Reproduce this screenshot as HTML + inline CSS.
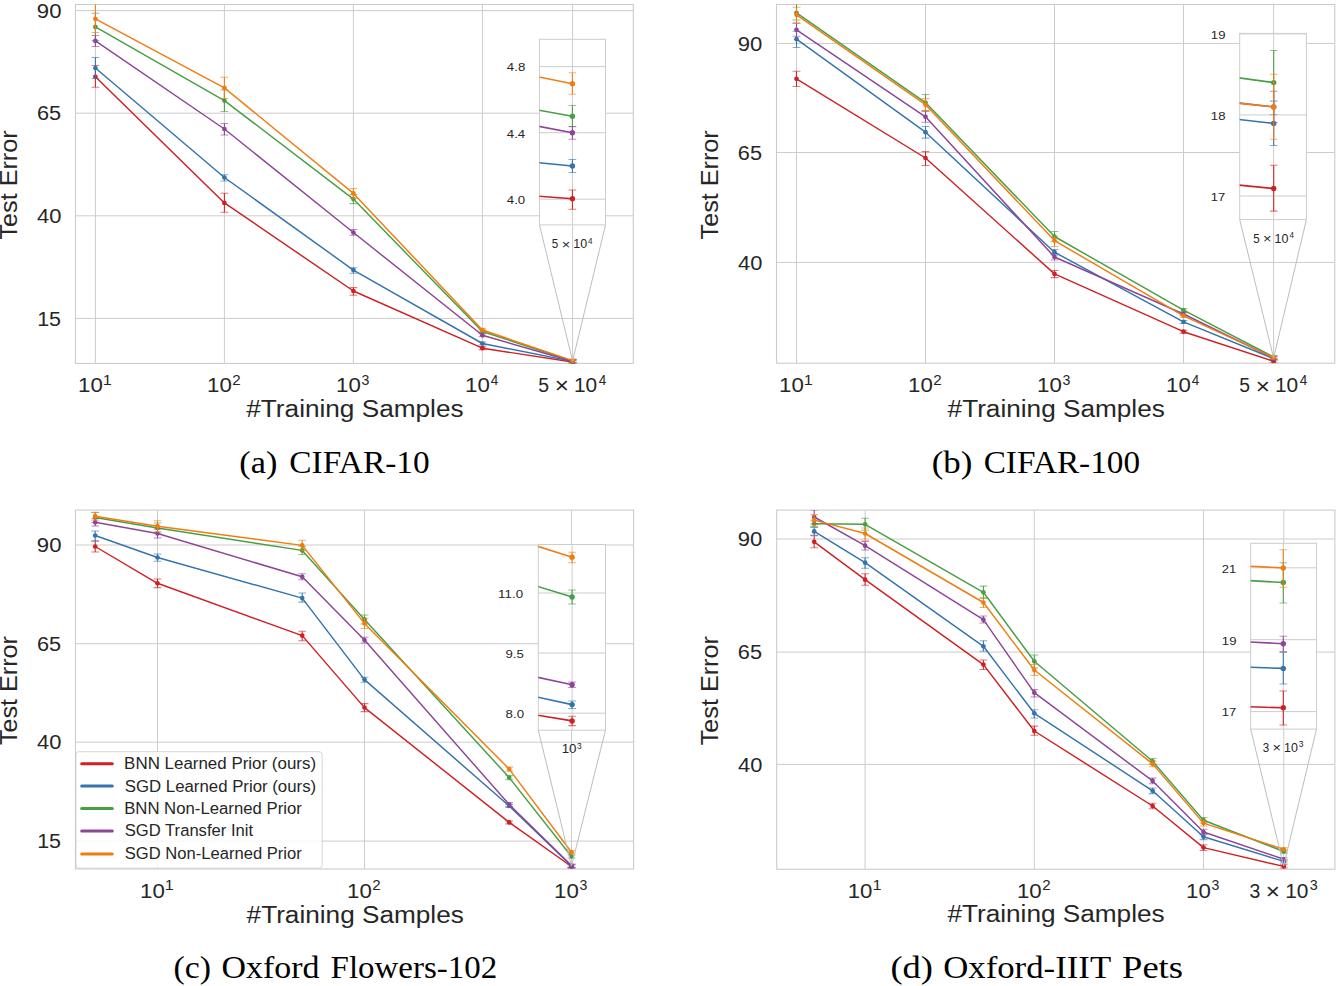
<!DOCTYPE html>
<html><head><meta charset="utf-8"><style>html,body{margin:0;padding:0;background:#fff;width:1338px;height:986px;overflow:hidden}svg{display:block}</style></head><body>
<svg width="1338" height="986" viewBox="0 0 1338 986">
<rect x="0" y="0" width="1338" height="986" fill="#ffffff"/>
<clipPath id="clipa"><rect x="75.5" y="4.5" width="557.8" height="358.9"/></clipPath>
<line x1="95.40" y1="4.50" x2="95.40" y2="363.40" stroke="#cccccc" stroke-width="1.0" />
<line x1="224.40" y1="4.50" x2="224.40" y2="363.40" stroke="#cccccc" stroke-width="1.0" />
<line x1="353.40" y1="4.50" x2="353.40" y2="363.40" stroke="#cccccc" stroke-width="1.0" />
<line x1="482.40" y1="4.50" x2="482.40" y2="363.40" stroke="#cccccc" stroke-width="1.0" />
<line x1="572.60" y1="4.50" x2="572.60" y2="363.40" stroke="#cccccc" stroke-width="1.0" />
<line x1="75.50" y1="10.60" x2="633.30" y2="10.60" stroke="#cccccc" stroke-width="1.0" />
<text transform="translate(36.84,17.80) scale(1.0543,1)" font-size="20.98" font-family='"Liberation Sans", sans-serif' fill="#262626" >90</text>
<line x1="75.50" y1="113.20" x2="633.30" y2="113.20" stroke="#cccccc" stroke-width="1.0" />
<text transform="translate(36.91,120.40) scale(1.0355,1)" font-size="20.98" font-family='"Liberation Sans", sans-serif' fill="#262626" >65</text>
<line x1="75.50" y1="215.80" x2="633.30" y2="215.80" stroke="#cccccc" stroke-width="1.0" />
<text transform="translate(37.10,223.00) scale(1.0430,1)" font-size="20.98" font-family='"Liberation Sans", sans-serif' fill="#262626" >40</text>
<line x1="75.50" y1="318.40" x2="633.30" y2="318.40" stroke="#cccccc" stroke-width="1.0" />
<text transform="translate(37.17,325.60) scale(1.0238,1)" font-size="20.98" font-family='"Liberation Sans", sans-serif' fill="#262626" >15</text>
<rect x="75.5" y="4.5" width="557.8" height="358.9" fill="none" stroke="#cccccc" stroke-width="1.1"/>
<g clip-path="url(#clipa)">
<path d="M95.40,76.80 L224.40,202.90 L353.40,291.00 L482.40,348.20 L572.60,362.00" fill="none" stroke="#cf2024" stroke-width="1.45" stroke-linejoin="round"/>
<circle cx="95.40" cy="76.80" r="2.35" fill="#cf2024"/>
<circle cx="224.40" cy="202.90" r="2.35" fill="#cf2024"/>
<circle cx="353.40" cy="291.00" r="2.35" fill="#cf2024"/>
<circle cx="482.40" cy="348.20" r="2.35" fill="#cf2024"/>
<circle cx="572.60" cy="362.00" r="2.35" fill="#cf2024"/>
<line x1="95.40" y1="65.40" x2="95.40" y2="87.20" stroke="#cf2024" stroke-width="1.05" />
<line x1="91.50" y1="65.40" x2="99.30" y2="65.40" stroke="#cf2024" stroke-width="1.05" stroke-opacity="0.6"/>
<line x1="91.50" y1="87.20" x2="99.30" y2="87.20" stroke="#cf2024" stroke-width="1.05" stroke-opacity="0.6"/>
<line x1="224.40" y1="193.20" x2="224.40" y2="212.30" stroke="#cf2024" stroke-width="1.05" />
<line x1="220.50" y1="193.20" x2="228.30" y2="193.20" stroke="#cf2024" stroke-width="1.05" stroke-opacity="0.6"/>
<line x1="220.50" y1="212.30" x2="228.30" y2="212.30" stroke="#cf2024" stroke-width="1.05" stroke-opacity="0.6"/>
<line x1="353.40" y1="287.60" x2="353.40" y2="295.30" stroke="#cf2024" stroke-width="1.05" />
<line x1="349.50" y1="287.60" x2="357.30" y2="287.60" stroke="#cf2024" stroke-width="1.05" stroke-opacity="0.6"/>
<line x1="349.50" y1="295.30" x2="357.30" y2="295.30" stroke="#cf2024" stroke-width="1.05" stroke-opacity="0.6"/>
<line x1="482.40" y1="346.70" x2="482.40" y2="349.70" stroke="#cf2024" stroke-width="1.05" />
<line x1="478.50" y1="346.70" x2="486.30" y2="346.70" stroke="#cf2024" stroke-width="1.05" stroke-opacity="0.6"/>
<line x1="478.50" y1="349.70" x2="486.30" y2="349.70" stroke="#cf2024" stroke-width="1.05" stroke-opacity="0.6"/>
<line x1="572.60" y1="360.40" x2="572.60" y2="363.60" stroke="#cf2024" stroke-width="1.05" />
<line x1="568.70" y1="360.40" x2="576.50" y2="360.40" stroke="#cf2024" stroke-width="1.05" stroke-opacity="0.6"/>
<line x1="568.70" y1="363.60" x2="576.50" y2="363.60" stroke="#cf2024" stroke-width="1.05" stroke-opacity="0.6"/>
<path d="M95.40,68.00 L224.40,177.50 L353.40,270.10 L482.40,343.50 L572.60,361.40" fill="none" stroke="#3474ad" stroke-width="1.45" stroke-linejoin="round"/>
<circle cx="95.40" cy="68.00" r="2.35" fill="#3474ad"/>
<circle cx="224.40" cy="177.50" r="2.35" fill="#3474ad"/>
<circle cx="353.40" cy="270.10" r="2.35" fill="#3474ad"/>
<circle cx="482.40" cy="343.50" r="2.35" fill="#3474ad"/>
<circle cx="572.60" cy="361.40" r="2.35" fill="#3474ad"/>
<line x1="95.40" y1="57.50" x2="95.40" y2="78.50" stroke="#3474ad" stroke-width="1.05" />
<line x1="91.50" y1="57.50" x2="99.30" y2="57.50" stroke="#3474ad" stroke-width="1.05" stroke-opacity="0.6"/>
<line x1="91.50" y1="78.50" x2="99.30" y2="78.50" stroke="#3474ad" stroke-width="1.05" stroke-opacity="0.6"/>
<line x1="224.40" y1="174.70" x2="224.40" y2="181.00" stroke="#3474ad" stroke-width="1.05" />
<line x1="220.50" y1="174.70" x2="228.30" y2="174.70" stroke="#3474ad" stroke-width="1.05" stroke-opacity="0.6"/>
<line x1="220.50" y1="181.00" x2="228.30" y2="181.00" stroke="#3474ad" stroke-width="1.05" stroke-opacity="0.6"/>
<line x1="353.40" y1="267.70" x2="353.40" y2="273.30" stroke="#3474ad" stroke-width="1.05" />
<line x1="349.50" y1="267.70" x2="357.30" y2="267.70" stroke="#3474ad" stroke-width="1.05" stroke-opacity="0.6"/>
<line x1="349.50" y1="273.30" x2="357.30" y2="273.30" stroke="#3474ad" stroke-width="1.05" stroke-opacity="0.6"/>
<line x1="482.40" y1="342.00" x2="482.40" y2="345.00" stroke="#3474ad" stroke-width="1.05" />
<line x1="478.50" y1="342.00" x2="486.30" y2="342.00" stroke="#3474ad" stroke-width="1.05" stroke-opacity="0.6"/>
<line x1="478.50" y1="345.00" x2="486.30" y2="345.00" stroke="#3474ad" stroke-width="1.05" stroke-opacity="0.6"/>
<line x1="572.60" y1="359.80" x2="572.60" y2="363.00" stroke="#3474ad" stroke-width="1.05" />
<line x1="568.70" y1="359.80" x2="576.50" y2="359.80" stroke="#3474ad" stroke-width="1.05" stroke-opacity="0.6"/>
<line x1="568.70" y1="363.00" x2="576.50" y2="363.00" stroke="#3474ad" stroke-width="1.05" stroke-opacity="0.6"/>
<path d="M95.40,26.90 L224.40,100.60 L353.40,199.10 L482.40,331.50 L572.60,361.00" fill="none" stroke="#479f45" stroke-width="1.45" stroke-linejoin="round"/>
<circle cx="95.40" cy="26.90" r="2.35" fill="#479f45"/>
<circle cx="224.40" cy="100.60" r="2.35" fill="#479f45"/>
<circle cx="353.40" cy="199.10" r="2.35" fill="#479f45"/>
<circle cx="482.40" cy="331.50" r="2.35" fill="#479f45"/>
<circle cx="572.60" cy="361.00" r="2.35" fill="#479f45"/>
<line x1="95.40" y1="13.20" x2="95.40" y2="40.60" stroke="#479f45" stroke-width="1.05" />
<line x1="91.50" y1="13.20" x2="99.30" y2="13.20" stroke="#479f45" stroke-width="1.05" stroke-opacity="0.6"/>
<line x1="91.50" y1="40.60" x2="99.30" y2="40.60" stroke="#479f45" stroke-width="1.05" stroke-opacity="0.6"/>
<line x1="224.40" y1="90.00" x2="224.40" y2="111.50" stroke="#479f45" stroke-width="1.05" />
<line x1="220.50" y1="90.00" x2="228.30" y2="90.00" stroke="#479f45" stroke-width="1.05" stroke-opacity="0.6"/>
<line x1="220.50" y1="111.50" x2="228.30" y2="111.50" stroke="#479f45" stroke-width="1.05" stroke-opacity="0.6"/>
<line x1="353.40" y1="194.60" x2="353.40" y2="203.60" stroke="#479f45" stroke-width="1.05" />
<line x1="349.50" y1="194.60" x2="357.30" y2="194.60" stroke="#479f45" stroke-width="1.05" stroke-opacity="0.6"/>
<line x1="349.50" y1="203.60" x2="357.30" y2="203.60" stroke="#479f45" stroke-width="1.05" stroke-opacity="0.6"/>
<line x1="482.40" y1="330.00" x2="482.40" y2="333.00" stroke="#479f45" stroke-width="1.05" />
<line x1="478.50" y1="330.00" x2="486.30" y2="330.00" stroke="#479f45" stroke-width="1.05" stroke-opacity="0.6"/>
<line x1="478.50" y1="333.00" x2="486.30" y2="333.00" stroke="#479f45" stroke-width="1.05" stroke-opacity="0.6"/>
<line x1="572.60" y1="359.40" x2="572.60" y2="362.60" stroke="#479f45" stroke-width="1.05" />
<line x1="568.70" y1="359.40" x2="576.50" y2="359.40" stroke="#479f45" stroke-width="1.05" stroke-opacity="0.6"/>
<line x1="568.70" y1="362.60" x2="576.50" y2="362.60" stroke="#479f45" stroke-width="1.05" stroke-opacity="0.6"/>
<path d="M95.40,40.90 L224.40,129.00 L353.40,232.50 L482.40,335.30 L572.60,361.20" fill="none" stroke="#8d4597" stroke-width="1.45" stroke-linejoin="round"/>
<circle cx="95.40" cy="40.90" r="2.35" fill="#8d4597"/>
<circle cx="224.40" cy="129.00" r="2.35" fill="#8d4597"/>
<circle cx="353.40" cy="232.50" r="2.35" fill="#8d4597"/>
<circle cx="482.40" cy="335.30" r="2.35" fill="#8d4597"/>
<circle cx="572.60" cy="361.20" r="2.35" fill="#8d4597"/>
<line x1="95.40" y1="35.50" x2="95.40" y2="46.40" stroke="#8d4597" stroke-width="1.05" />
<line x1="91.50" y1="35.50" x2="99.30" y2="35.50" stroke="#8d4597" stroke-width="1.05" stroke-opacity="0.6"/>
<line x1="91.50" y1="46.40" x2="99.30" y2="46.40" stroke="#8d4597" stroke-width="1.05" stroke-opacity="0.6"/>
<line x1="224.40" y1="123.50" x2="224.40" y2="134.90" stroke="#8d4597" stroke-width="1.05" />
<line x1="220.50" y1="123.50" x2="228.30" y2="123.50" stroke="#8d4597" stroke-width="1.05" stroke-opacity="0.6"/>
<line x1="220.50" y1="134.90" x2="228.30" y2="134.90" stroke="#8d4597" stroke-width="1.05" stroke-opacity="0.6"/>
<line x1="353.40" y1="229.40" x2="353.40" y2="235.30" stroke="#8d4597" stroke-width="1.05" />
<line x1="349.50" y1="229.40" x2="357.30" y2="229.40" stroke="#8d4597" stroke-width="1.05" stroke-opacity="0.6"/>
<line x1="349.50" y1="235.30" x2="357.30" y2="235.30" stroke="#8d4597" stroke-width="1.05" stroke-opacity="0.6"/>
<line x1="482.40" y1="333.80" x2="482.40" y2="336.80" stroke="#8d4597" stroke-width="1.05" />
<line x1="478.50" y1="333.80" x2="486.30" y2="333.80" stroke="#8d4597" stroke-width="1.05" stroke-opacity="0.6"/>
<line x1="478.50" y1="336.80" x2="486.30" y2="336.80" stroke="#8d4597" stroke-width="1.05" stroke-opacity="0.6"/>
<line x1="572.60" y1="359.60" x2="572.60" y2="362.80" stroke="#8d4597" stroke-width="1.05" />
<line x1="568.70" y1="359.60" x2="576.50" y2="359.60" stroke="#8d4597" stroke-width="1.05" stroke-opacity="0.6"/>
<line x1="568.70" y1="362.80" x2="576.50" y2="362.80" stroke="#8d4597" stroke-width="1.05" stroke-opacity="0.6"/>
<path d="M95.40,18.80 L224.40,87.90 L353.40,193.40 L482.40,330.00 L572.60,360.60" fill="none" stroke="#f07d12" stroke-width="1.45" stroke-linejoin="round"/>
<circle cx="95.40" cy="18.80" r="2.35" fill="#f07d12"/>
<circle cx="224.40" cy="87.90" r="2.35" fill="#f07d12"/>
<circle cx="353.40" cy="193.40" r="2.35" fill="#f07d12"/>
<circle cx="482.40" cy="330.00" r="2.35" fill="#f07d12"/>
<circle cx="572.60" cy="360.60" r="2.35" fill="#f07d12"/>
<line x1="95.40" y1="2.00" x2="95.40" y2="32.50" stroke="#f07d12" stroke-width="1.05" />
<line x1="91.50" y1="2.00" x2="99.30" y2="2.00" stroke="#f07d12" stroke-width="1.05" stroke-opacity="0.6"/>
<line x1="91.50" y1="32.50" x2="99.30" y2="32.50" stroke="#f07d12" stroke-width="1.05" stroke-opacity="0.6"/>
<line x1="224.40" y1="77.30" x2="224.40" y2="98.50" stroke="#f07d12" stroke-width="1.05" />
<line x1="220.50" y1="77.30" x2="228.30" y2="77.30" stroke="#f07d12" stroke-width="1.05" stroke-opacity="0.6"/>
<line x1="220.50" y1="98.50" x2="228.30" y2="98.50" stroke="#f07d12" stroke-width="1.05" stroke-opacity="0.6"/>
<line x1="353.40" y1="188.50" x2="353.40" y2="198.40" stroke="#f07d12" stroke-width="1.05" />
<line x1="349.50" y1="188.50" x2="357.30" y2="188.50" stroke="#f07d12" stroke-width="1.05" stroke-opacity="0.6"/>
<line x1="349.50" y1="198.40" x2="357.30" y2="198.40" stroke="#f07d12" stroke-width="1.05" stroke-opacity="0.6"/>
<line x1="482.40" y1="328.30" x2="482.40" y2="331.70" stroke="#f07d12" stroke-width="1.05" />
<line x1="478.50" y1="328.30" x2="486.30" y2="328.30" stroke="#f07d12" stroke-width="1.05" stroke-opacity="0.6"/>
<line x1="478.50" y1="331.70" x2="486.30" y2="331.70" stroke="#f07d12" stroke-width="1.05" stroke-opacity="0.6"/>
<line x1="572.60" y1="359.00" x2="572.60" y2="362.20" stroke="#f07d12" stroke-width="1.05" />
<line x1="568.70" y1="359.00" x2="576.50" y2="359.00" stroke="#f07d12" stroke-width="1.05" stroke-opacity="0.6"/>
<line x1="568.70" y1="362.20" x2="576.50" y2="362.20" stroke="#f07d12" stroke-width="1.05" stroke-opacity="0.6"/>
</g>
<line x1="539.50" y1="224.90" x2="572.60" y2="361.00" stroke="#bdbdbd" stroke-width="1.0" />
<line x1="605.50" y1="224.90" x2="572.60" y2="361.00" stroke="#bdbdbd" stroke-width="1.0" />
<rect x="539.5" y="39.3" width="66.0" height="185.60000000000002" fill="#ffffff"/>
<clipPath id="iclipa"><rect x="539.5" y="39.3" width="66.0" height="185.60000000000002"/></clipPath>
<line x1="572.40" y1="39.30" x2="572.40" y2="224.90" stroke="#cccccc" stroke-width="1.0" />
<line x1="539.50" y1="66.60" x2="605.50" y2="66.60" stroke="#cccccc" stroke-width="1.0" />
<text transform="translate(506.85,71.45) scale(1.1362,1)" font-size="11.66" font-family='"Liberation Sans", sans-serif' fill="#262626" >4.8</text>
<line x1="539.50" y1="132.70" x2="605.50" y2="132.70" stroke="#cccccc" stroke-width="1.0" />
<text transform="translate(506.85,137.55) scale(1.1335,1)" font-size="11.66" font-family='"Liberation Sans", sans-serif' fill="#262626" >4.4</text>
<line x1="539.50" y1="199.20" x2="605.50" y2="199.20" stroke="#cccccc" stroke-width="1.0" />
<text transform="translate(506.85,204.05) scale(1.1340,1)" font-size="11.66" font-family='"Liberation Sans", sans-serif' fill="#262626" >4.0</text>
<rect x="539.5" y="39.3" width="66.0" height="185.60000000000002" fill="none" stroke="#cccccc" stroke-width="1.0"/>
<g clip-path="url(#iclipa)">
<path d="M537.50,196.20 L572.40,198.70" fill="none" stroke="#cf2024" stroke-width="1.6" stroke-linejoin="round"/>
<circle cx="572.40" cy="198.70" r="2.7" fill="#cf2024"/>
<line x1="572.40" y1="189.90" x2="572.40" y2="209.20" stroke="#cf2024" stroke-width="1.05" />
<line x1="568.60" y1="189.90" x2="576.20" y2="189.90" stroke="#cf2024" stroke-width="1.05" stroke-opacity="0.6"/>
<line x1="568.60" y1="209.20" x2="576.20" y2="209.20" stroke="#cf2024" stroke-width="1.05" stroke-opacity="0.6"/>
<path d="M537.50,162.60 L572.40,166.00" fill="none" stroke="#3474ad" stroke-width="1.6" stroke-linejoin="round"/>
<circle cx="572.40" cy="166.00" r="2.7" fill="#3474ad"/>
<line x1="572.40" y1="159.50" x2="572.40" y2="172.40" stroke="#3474ad" stroke-width="1.05" />
<line x1="568.60" y1="159.50" x2="576.20" y2="159.50" stroke="#3474ad" stroke-width="1.05" stroke-opacity="0.6"/>
<line x1="568.60" y1="172.40" x2="576.20" y2="172.40" stroke="#3474ad" stroke-width="1.05" stroke-opacity="0.6"/>
<path d="M537.50,110.00 L572.40,116.30" fill="none" stroke="#479f45" stroke-width="1.6" stroke-linejoin="round"/>
<circle cx="572.40" cy="116.30" r="2.7" fill="#479f45"/>
<line x1="572.40" y1="105.40" x2="572.40" y2="126.80" stroke="#479f45" stroke-width="1.05" />
<line x1="568.60" y1="105.40" x2="576.20" y2="105.40" stroke="#479f45" stroke-width="1.05" stroke-opacity="0.6"/>
<line x1="568.60" y1="126.80" x2="576.20" y2="126.80" stroke="#479f45" stroke-width="1.05" stroke-opacity="0.6"/>
<path d="M537.50,126.10 L572.40,132.70" fill="none" stroke="#8d4597" stroke-width="1.6" stroke-linejoin="round"/>
<circle cx="572.40" cy="132.70" r="2.7" fill="#8d4597"/>
<line x1="572.40" y1="126.40" x2="572.40" y2="139.20" stroke="#8d4597" stroke-width="1.05" />
<line x1="568.60" y1="126.40" x2="576.20" y2="126.40" stroke="#8d4597" stroke-width="1.05" stroke-opacity="0.6"/>
<line x1="568.60" y1="139.20" x2="576.20" y2="139.20" stroke="#8d4597" stroke-width="1.05" stroke-opacity="0.6"/>
<path d="M537.50,76.70 L572.40,83.70" fill="none" stroke="#f07d12" stroke-width="1.6" stroke-linejoin="round"/>
<circle cx="572.40" cy="83.70" r="2.7" fill="#f07d12"/>
<line x1="572.40" y1="72.70" x2="572.40" y2="94.20" stroke="#f07d12" stroke-width="1.05" />
<line x1="568.60" y1="72.70" x2="576.20" y2="72.70" stroke="#f07d12" stroke-width="1.05" stroke-opacity="0.6"/>
<line x1="568.60" y1="94.20" x2="576.20" y2="94.20" stroke="#f07d12" stroke-width="1.05" stroke-opacity="0.6"/>
</g>
<text transform="translate(551.86,248.30) scale(0.9604,1)" font-size="12.12" font-family='"Liberation Sans", sans-serif' fill="#262626" >5</text>
<text transform="translate(561.64,249.13) scale(1.0705,1)" font-size="13.58" font-family='"Liberation Sans", sans-serif' fill="#262626">×</text>
<text transform="translate(573.22,248.30) scale(1.0326,1)" font-size="12.12" font-family='"Liberation Sans", sans-serif' fill="#262626" >10</text>
<text transform="translate(588.08,243.86) scale(0.9571,1)" font-size="8.46" font-family='"Liberation Sans", sans-serif' fill="#262626" >4</text>
<text transform="translate(78.00,392.10) scale(1.1020,1)" font-size="20.20" font-family='"Liberation Sans", sans-serif' fill="#262626" >10</text>
<text transform="translate(102.76,384.70) scale(1.1516,1)" font-size="14.10" font-family='"Liberation Sans", sans-serif' fill="#262626" >1</text>
<text transform="translate(207.00,392.10) scale(1.1020,1)" font-size="20.20" font-family='"Liberation Sans", sans-serif' fill="#262626" >10</text>
<text transform="translate(232.24,384.70) scale(1.0743,1)" font-size="14.10" font-family='"Liberation Sans", sans-serif' fill="#262626" >2</text>
<text transform="translate(336.00,392.10) scale(1.1020,1)" font-size="20.20" font-family='"Liberation Sans", sans-serif' fill="#262626" >10</text>
<text transform="translate(361.46,384.70) scale(1.0023,1)" font-size="14.10" font-family='"Liberation Sans", sans-serif' fill="#262626" >3</text>
<text transform="translate(465.00,392.10) scale(1.1020,1)" font-size="20.20" font-family='"Liberation Sans", sans-serif' fill="#262626" >10</text>
<text transform="translate(490.69,384.70) scale(0.9571,1)" font-size="14.10" font-family='"Liberation Sans", sans-serif' fill="#262626" >4</text>
<text transform="translate(538.37,392.10) scale(0.9604,1)" font-size="20.20" font-family='"Liberation Sans", sans-serif' fill="#262626" >5</text>
<text transform="translate(554.67,393.49) scale(1.0705,1)" font-size="22.63" font-family='"Liberation Sans", sans-serif' fill="#262626">×</text>
<text transform="translate(573.96,392.10) scale(1.0326,1)" font-size="20.20" font-family='"Liberation Sans", sans-serif' fill="#262626" >10</text>
<text transform="translate(598.74,384.70) scale(0.9571,1)" font-size="14.10" font-family='"Liberation Sans", sans-serif' fill="#262626" >4</text>
<text transform="translate(246.28,417.10) scale(1.1328,1)" font-size="23.11" font-family='"Liberation Sans", sans-serif' fill="#262626" >#Training Samples</text>
<g transform="translate(16.50,238.95) rotate(-90)">
<text transform="translate(-0.57,0) scale(1.0902,1)" font-size="23.11" font-family='"Liberation Sans", sans-serif' fill="#262626">Test Error</text>
</g>
<text transform="translate(239.29,472.80) scale(1.0532,1)" font-size="32.52" font-family='"Liberation Serif", serif' fill="#000000" >(a)</text>
<text transform="translate(289.33,472.80) scale(1.0267,1)" font-size="32.52" font-family='"Liberation Serif", serif' fill="#000000" >CIFAR-10</text>
<clipPath id="clipb"><rect x="776.5" y="4.5" width="558.3" height="358.7"/></clipPath>
<line x1="796.50" y1="4.50" x2="796.50" y2="363.20" stroke="#cccccc" stroke-width="1.0" />
<line x1="925.50" y1="4.50" x2="925.50" y2="363.20" stroke="#cccccc" stroke-width="1.0" />
<line x1="1054.50" y1="4.50" x2="1054.50" y2="363.20" stroke="#cccccc" stroke-width="1.0" />
<line x1="1183.50" y1="4.50" x2="1183.50" y2="363.20" stroke="#cccccc" stroke-width="1.0" />
<line x1="1273.60" y1="4.50" x2="1273.60" y2="363.20" stroke="#cccccc" stroke-width="1.0" />
<line x1="776.50" y1="43.44" x2="1334.80" y2="43.44" stroke="#cccccc" stroke-width="1.0" />
<text transform="translate(737.74,50.64) scale(1.0543,1)" font-size="20.98" font-family='"Liberation Sans", sans-serif' fill="#262626" >90</text>
<line x1="776.50" y1="152.50" x2="1334.80" y2="152.50" stroke="#cccccc" stroke-width="1.0" />
<text transform="translate(737.81,159.70) scale(1.0355,1)" font-size="20.98" font-family='"Liberation Sans", sans-serif' fill="#262626" >65</text>
<line x1="776.50" y1="262.40" x2="1334.80" y2="262.40" stroke="#cccccc" stroke-width="1.0" />
<text transform="translate(738.00,269.60) scale(1.0430,1)" font-size="20.98" font-family='"Liberation Sans", sans-serif' fill="#262626" >40</text>
<rect x="776.5" y="4.5" width="558.3" height="358.7" fill="none" stroke="#cccccc" stroke-width="1.1"/>
<g clip-path="url(#clipb)">
<path d="M796.50,78.80 L925.50,158.00 L1054.50,273.90 L1183.50,331.70 L1273.60,361.20" fill="none" stroke="#cf2024" stroke-width="1.45" stroke-linejoin="round"/>
<circle cx="796.50" cy="78.80" r="2.35" fill="#cf2024"/>
<circle cx="925.50" cy="158.00" r="2.35" fill="#cf2024"/>
<circle cx="1054.50" cy="273.90" r="2.35" fill="#cf2024"/>
<circle cx="1183.50" cy="331.70" r="2.35" fill="#cf2024"/>
<circle cx="1273.60" cy="361.20" r="2.35" fill="#cf2024"/>
<line x1="796.50" y1="71.20" x2="796.50" y2="86.40" stroke="#cf2024" stroke-width="1.05" />
<line x1="792.60" y1="71.20" x2="800.40" y2="71.20" stroke="#cf2024" stroke-width="1.05" stroke-opacity="0.6"/>
<line x1="792.60" y1="86.40" x2="800.40" y2="86.40" stroke="#cf2024" stroke-width="1.05" stroke-opacity="0.6"/>
<line x1="925.50" y1="151.60" x2="925.50" y2="165.40" stroke="#cf2024" stroke-width="1.05" />
<line x1="921.60" y1="151.60" x2="929.40" y2="151.60" stroke="#cf2024" stroke-width="1.05" stroke-opacity="0.6"/>
<line x1="921.60" y1="165.40" x2="929.40" y2="165.40" stroke="#cf2024" stroke-width="1.05" stroke-opacity="0.6"/>
<line x1="1054.50" y1="270.50" x2="1054.50" y2="277.60" stroke="#cf2024" stroke-width="1.05" />
<line x1="1050.60" y1="270.50" x2="1058.40" y2="270.50" stroke="#cf2024" stroke-width="1.05" stroke-opacity="0.6"/>
<line x1="1050.60" y1="277.60" x2="1058.40" y2="277.60" stroke="#cf2024" stroke-width="1.05" stroke-opacity="0.6"/>
<line x1="1183.50" y1="330.20" x2="1183.50" y2="333.20" stroke="#cf2024" stroke-width="1.05" />
<line x1="1179.60" y1="330.20" x2="1187.40" y2="330.20" stroke="#cf2024" stroke-width="1.05" stroke-opacity="0.6"/>
<line x1="1179.60" y1="333.20" x2="1187.40" y2="333.20" stroke="#cf2024" stroke-width="1.05" stroke-opacity="0.6"/>
<line x1="1273.60" y1="359.60" x2="1273.60" y2="362.80" stroke="#cf2024" stroke-width="1.05" />
<line x1="1269.70" y1="359.60" x2="1277.50" y2="359.60" stroke="#cf2024" stroke-width="1.05" stroke-opacity="0.6"/>
<line x1="1269.70" y1="362.80" x2="1277.50" y2="362.80" stroke="#cf2024" stroke-width="1.05" stroke-opacity="0.6"/>
<path d="M796.50,39.20 L925.50,132.20 L1054.50,252.20 L1183.50,321.90 L1273.60,358.50" fill="none" stroke="#3474ad" stroke-width="1.45" stroke-linejoin="round"/>
<circle cx="796.50" cy="39.20" r="2.35" fill="#3474ad"/>
<circle cx="925.50" cy="132.20" r="2.35" fill="#3474ad"/>
<circle cx="1054.50" cy="252.20" r="2.35" fill="#3474ad"/>
<circle cx="1183.50" cy="321.90" r="2.35" fill="#3474ad"/>
<circle cx="1273.60" cy="358.50" r="2.35" fill="#3474ad"/>
<line x1="796.50" y1="31.20" x2="796.50" y2="47.40" stroke="#3474ad" stroke-width="1.05" />
<line x1="792.60" y1="31.20" x2="800.40" y2="31.20" stroke="#3474ad" stroke-width="1.05" stroke-opacity="0.6"/>
<line x1="792.60" y1="47.40" x2="800.40" y2="47.40" stroke="#3474ad" stroke-width="1.05" stroke-opacity="0.6"/>
<line x1="925.50" y1="126.50" x2="925.50" y2="138.10" stroke="#3474ad" stroke-width="1.05" />
<line x1="921.60" y1="126.50" x2="929.40" y2="126.50" stroke="#3474ad" stroke-width="1.05" stroke-opacity="0.6"/>
<line x1="921.60" y1="138.10" x2="929.40" y2="138.10" stroke="#3474ad" stroke-width="1.05" stroke-opacity="0.6"/>
<line x1="1054.50" y1="249.50" x2="1054.50" y2="255.00" stroke="#3474ad" stroke-width="1.05" />
<line x1="1050.60" y1="249.50" x2="1058.40" y2="249.50" stroke="#3474ad" stroke-width="1.05" stroke-opacity="0.6"/>
<line x1="1050.60" y1="255.00" x2="1058.40" y2="255.00" stroke="#3474ad" stroke-width="1.05" stroke-opacity="0.6"/>
<line x1="1183.50" y1="320.40" x2="1183.50" y2="323.40" stroke="#3474ad" stroke-width="1.05" />
<line x1="1179.60" y1="320.40" x2="1187.40" y2="320.40" stroke="#3474ad" stroke-width="1.05" stroke-opacity="0.6"/>
<line x1="1179.60" y1="323.40" x2="1187.40" y2="323.40" stroke="#3474ad" stroke-width="1.05" stroke-opacity="0.6"/>
<line x1="1273.60" y1="356.90" x2="1273.60" y2="360.10" stroke="#3474ad" stroke-width="1.05" />
<line x1="1269.70" y1="356.90" x2="1277.50" y2="356.90" stroke="#3474ad" stroke-width="1.05" stroke-opacity="0.6"/>
<line x1="1269.70" y1="360.10" x2="1277.50" y2="360.10" stroke="#3474ad" stroke-width="1.05" stroke-opacity="0.6"/>
<path d="M796.50,12.80 L925.50,102.60 L1054.50,236.50 L1183.50,310.20 L1273.60,357.00" fill="none" stroke="#479f45" stroke-width="1.45" stroke-linejoin="round"/>
<circle cx="796.50" cy="12.80" r="2.35" fill="#479f45"/>
<circle cx="925.50" cy="102.60" r="2.35" fill="#479f45"/>
<circle cx="1054.50" cy="236.50" r="2.35" fill="#479f45"/>
<circle cx="1183.50" cy="310.20" r="2.35" fill="#479f45"/>
<circle cx="1273.60" cy="357.00" r="2.35" fill="#479f45"/>
<line x1="796.50" y1="3.00" x2="796.50" y2="20.00" stroke="#479f45" stroke-width="1.05" />
<line x1="792.60" y1="3.00" x2="800.40" y2="3.00" stroke="#479f45" stroke-width="1.05" stroke-opacity="0.6"/>
<line x1="792.60" y1="20.00" x2="800.40" y2="20.00" stroke="#479f45" stroke-width="1.05" stroke-opacity="0.6"/>
<line x1="925.50" y1="94.40" x2="925.50" y2="110.80" stroke="#479f45" stroke-width="1.05" />
<line x1="921.60" y1="94.40" x2="929.40" y2="94.40" stroke="#479f45" stroke-width="1.05" stroke-opacity="0.6"/>
<line x1="921.60" y1="110.80" x2="929.40" y2="110.80" stroke="#479f45" stroke-width="1.05" stroke-opacity="0.6"/>
<line x1="1054.50" y1="231.50" x2="1054.50" y2="241.50" stroke="#479f45" stroke-width="1.05" />
<line x1="1050.60" y1="231.50" x2="1058.40" y2="231.50" stroke="#479f45" stroke-width="1.05" stroke-opacity="0.6"/>
<line x1="1050.60" y1="241.50" x2="1058.40" y2="241.50" stroke="#479f45" stroke-width="1.05" stroke-opacity="0.6"/>
<line x1="1183.50" y1="308.70" x2="1183.50" y2="311.70" stroke="#479f45" stroke-width="1.05" />
<line x1="1179.60" y1="308.70" x2="1187.40" y2="308.70" stroke="#479f45" stroke-width="1.05" stroke-opacity="0.6"/>
<line x1="1179.60" y1="311.70" x2="1187.40" y2="311.70" stroke="#479f45" stroke-width="1.05" stroke-opacity="0.6"/>
<line x1="1273.60" y1="355.40" x2="1273.60" y2="358.60" stroke="#479f45" stroke-width="1.05" />
<line x1="1269.70" y1="355.40" x2="1277.50" y2="355.40" stroke="#479f45" stroke-width="1.05" stroke-opacity="0.6"/>
<line x1="1269.70" y1="358.60" x2="1277.50" y2="358.60" stroke="#479f45" stroke-width="1.05" stroke-opacity="0.6"/>
<path d="M796.50,29.80 L925.50,116.80 L1054.50,257.00 L1183.50,314.00 L1273.60,358.00" fill="none" stroke="#8d4597" stroke-width="1.45" stroke-linejoin="round"/>
<circle cx="796.50" cy="29.80" r="2.35" fill="#8d4597"/>
<circle cx="925.50" cy="116.80" r="2.35" fill="#8d4597"/>
<circle cx="1054.50" cy="257.00" r="2.35" fill="#8d4597"/>
<circle cx="1183.50" cy="314.00" r="2.35" fill="#8d4597"/>
<circle cx="1273.60" cy="358.00" r="2.35" fill="#8d4597"/>
<line x1="796.50" y1="23.30" x2="796.50" y2="36.30" stroke="#8d4597" stroke-width="1.05" />
<line x1="792.60" y1="23.30" x2="800.40" y2="23.30" stroke="#8d4597" stroke-width="1.05" stroke-opacity="0.6"/>
<line x1="792.60" y1="36.30" x2="800.40" y2="36.30" stroke="#8d4597" stroke-width="1.05" stroke-opacity="0.6"/>
<line x1="925.50" y1="111.10" x2="925.50" y2="122.20" stroke="#8d4597" stroke-width="1.05" />
<line x1="921.60" y1="111.10" x2="929.40" y2="111.10" stroke="#8d4597" stroke-width="1.05" stroke-opacity="0.6"/>
<line x1="921.60" y1="122.20" x2="929.40" y2="122.20" stroke="#8d4597" stroke-width="1.05" stroke-opacity="0.6"/>
<line x1="1054.50" y1="254.00" x2="1054.50" y2="260.00" stroke="#8d4597" stroke-width="1.05" />
<line x1="1050.60" y1="254.00" x2="1058.40" y2="254.00" stroke="#8d4597" stroke-width="1.05" stroke-opacity="0.6"/>
<line x1="1050.60" y1="260.00" x2="1058.40" y2="260.00" stroke="#8d4597" stroke-width="1.05" stroke-opacity="0.6"/>
<line x1="1183.50" y1="312.50" x2="1183.50" y2="315.50" stroke="#8d4597" stroke-width="1.05" />
<line x1="1179.60" y1="312.50" x2="1187.40" y2="312.50" stroke="#8d4597" stroke-width="1.05" stroke-opacity="0.6"/>
<line x1="1179.60" y1="315.50" x2="1187.40" y2="315.50" stroke="#8d4597" stroke-width="1.05" stroke-opacity="0.6"/>
<line x1="1273.60" y1="356.40" x2="1273.60" y2="359.60" stroke="#8d4597" stroke-width="1.05" />
<line x1="1269.70" y1="356.40" x2="1277.50" y2="356.40" stroke="#8d4597" stroke-width="1.05" stroke-opacity="0.6"/>
<line x1="1269.70" y1="359.60" x2="1277.50" y2="359.60" stroke="#8d4597" stroke-width="1.05" stroke-opacity="0.6"/>
<path d="M796.50,14.80 L925.50,104.70 L1054.50,240.60 L1183.50,315.80 L1273.60,357.50" fill="none" stroke="#f07d12" stroke-width="1.45" stroke-linejoin="round"/>
<circle cx="796.50" cy="14.80" r="2.35" fill="#f07d12"/>
<circle cx="925.50" cy="104.70" r="2.35" fill="#f07d12"/>
<circle cx="1054.50" cy="240.60" r="2.35" fill="#f07d12"/>
<circle cx="1183.50" cy="315.80" r="2.35" fill="#f07d12"/>
<circle cx="1273.60" cy="357.50" r="2.35" fill="#f07d12"/>
<line x1="796.50" y1="7.30" x2="796.50" y2="23.10" stroke="#f07d12" stroke-width="1.05" />
<line x1="792.60" y1="7.30" x2="800.40" y2="7.30" stroke="#f07d12" stroke-width="1.05" stroke-opacity="0.6"/>
<line x1="792.60" y1="23.10" x2="800.40" y2="23.10" stroke="#f07d12" stroke-width="1.05" stroke-opacity="0.6"/>
<line x1="925.50" y1="98.60" x2="925.50" y2="111.10" stroke="#f07d12" stroke-width="1.05" />
<line x1="921.60" y1="98.60" x2="929.40" y2="98.60" stroke="#f07d12" stroke-width="1.05" stroke-opacity="0.6"/>
<line x1="921.60" y1="111.10" x2="929.40" y2="111.10" stroke="#f07d12" stroke-width="1.05" stroke-opacity="0.6"/>
<line x1="1054.50" y1="236.50" x2="1054.50" y2="246.50" stroke="#f07d12" stroke-width="1.05" />
<line x1="1050.60" y1="236.50" x2="1058.40" y2="236.50" stroke="#f07d12" stroke-width="1.05" stroke-opacity="0.6"/>
<line x1="1050.60" y1="246.50" x2="1058.40" y2="246.50" stroke="#f07d12" stroke-width="1.05" stroke-opacity="0.6"/>
<line x1="1183.50" y1="314.30" x2="1183.50" y2="317.30" stroke="#f07d12" stroke-width="1.05" />
<line x1="1179.60" y1="314.30" x2="1187.40" y2="314.30" stroke="#f07d12" stroke-width="1.05" stroke-opacity="0.6"/>
<line x1="1179.60" y1="317.30" x2="1187.40" y2="317.30" stroke="#f07d12" stroke-width="1.05" stroke-opacity="0.6"/>
<line x1="1273.60" y1="355.90" x2="1273.60" y2="359.10" stroke="#f07d12" stroke-width="1.05" />
<line x1="1269.70" y1="355.90" x2="1277.50" y2="355.90" stroke="#f07d12" stroke-width="1.05" stroke-opacity="0.6"/>
<line x1="1269.70" y1="359.10" x2="1277.50" y2="359.10" stroke="#f07d12" stroke-width="1.05" stroke-opacity="0.6"/>
</g>
<line x1="1239.70" y1="219.60" x2="1273.60" y2="358.00" stroke="#bdbdbd" stroke-width="1.0" />
<line x1="1306.40" y1="219.60" x2="1273.60" y2="358.00" stroke="#bdbdbd" stroke-width="1.0" />
<rect x="1239.7" y="33.4" width="66.70000000000005" height="186.2" fill="#ffffff"/>
<clipPath id="iclipb"><rect x="1239.7" y="33.4" width="66.70000000000005" height="186.2"/></clipPath>
<line x1="1273.70" y1="33.40" x2="1273.70" y2="219.60" stroke="#cccccc" stroke-width="1.0" />
<line x1="1239.70" y1="33.90" x2="1306.40" y2="33.90" stroke="#cccccc" stroke-width="1.0" />
<text transform="translate(1210.86,38.75) scale(1.1279,1)" font-size="11.66" font-family='"Liberation Sans", sans-serif' fill="#262626" >19</text>
<line x1="1239.70" y1="114.90" x2="1306.40" y2="114.90" stroke="#cccccc" stroke-width="1.0" />
<text transform="translate(1210.87,119.75) scale(1.1254,1)" font-size="11.66" font-family='"Liberation Sans", sans-serif' fill="#262626" >18</text>
<line x1="1239.70" y1="196.00" x2="1306.40" y2="196.00" stroke="#cccccc" stroke-width="1.0" />
<text transform="translate(1210.87,200.85) scale(1.1155,1)" font-size="11.66" font-family='"Liberation Sans", sans-serif' fill="#262626" >17</text>
<rect x="1239.7" y="33.4" width="66.70000000000005" height="186.2" fill="none" stroke="#cccccc" stroke-width="1.0"/>
<g clip-path="url(#iclipb)">
<path d="M1237.70,185.00 L1273.70,188.50" fill="none" stroke="#cf2024" stroke-width="1.6" stroke-linejoin="round"/>
<circle cx="1273.70" cy="188.50" r="2.7" fill="#cf2024"/>
<line x1="1273.70" y1="165.30" x2="1273.70" y2="211.10" stroke="#cf2024" stroke-width="1.05" />
<line x1="1269.90" y1="165.30" x2="1277.50" y2="165.30" stroke="#cf2024" stroke-width="1.05" stroke-opacity="0.6"/>
<line x1="1269.90" y1="211.10" x2="1277.50" y2="211.10" stroke="#cf2024" stroke-width="1.05" stroke-opacity="0.6"/>
<path d="M1237.70,119.30 L1273.70,123.50" fill="none" stroke="#3474ad" stroke-width="1.6" stroke-linejoin="round"/>
<circle cx="1273.70" cy="123.50" r="2.7" fill="#3474ad"/>
<line x1="1273.70" y1="101.10" x2="1273.70" y2="145.40" stroke="#3474ad" stroke-width="1.05" />
<line x1="1269.90" y1="101.10" x2="1277.50" y2="101.10" stroke="#3474ad" stroke-width="1.05" stroke-opacity="0.6"/>
<line x1="1269.90" y1="145.40" x2="1277.50" y2="145.40" stroke="#3474ad" stroke-width="1.05" stroke-opacity="0.6"/>
<path d="M1237.70,77.70 L1273.70,82.60" fill="none" stroke="#479f45" stroke-width="1.6" stroke-linejoin="round"/>
<circle cx="1273.70" cy="82.60" r="2.7" fill="#479f45"/>
<line x1="1273.70" y1="50.40" x2="1273.70" y2="114.80" stroke="#479f45" stroke-width="1.05" />
<line x1="1269.90" y1="50.40" x2="1277.50" y2="50.40" stroke="#479f45" stroke-width="1.05" stroke-opacity="0.6"/>
<line x1="1269.90" y1="114.80" x2="1277.50" y2="114.80" stroke="#479f45" stroke-width="1.05" stroke-opacity="0.6"/>
<path d="M1237.70,103.00 L1273.70,106.90" fill="none" stroke="#8d4597" stroke-width="1.6" stroke-linejoin="round"/>
<circle cx="1273.70" cy="106.90" r="2.7" fill="#8d4597"/>
<line x1="1273.70" y1="91.30" x2="1273.70" y2="122.50" stroke="#8d4597" stroke-width="1.05" />
<line x1="1269.90" y1="91.30" x2="1277.50" y2="91.30" stroke="#8d4597" stroke-width="1.05" stroke-opacity="0.6"/>
<line x1="1269.90" y1="122.50" x2="1277.50" y2="122.50" stroke="#8d4597" stroke-width="1.05" stroke-opacity="0.6"/>
<path d="M1237.70,103.00 L1273.70,106.90" fill="none" stroke="#f07d12" stroke-width="1.6" stroke-linejoin="round"/>
<circle cx="1273.70" cy="106.90" r="2.7" fill="#f07d12"/>
<line x1="1273.70" y1="74.30" x2="1273.70" y2="139.30" stroke="#f07d12" stroke-width="1.05" />
<line x1="1269.90" y1="74.30" x2="1277.50" y2="74.30" stroke="#f07d12" stroke-width="1.05" stroke-opacity="0.6"/>
<line x1="1269.90" y1="139.30" x2="1277.50" y2="139.30" stroke="#f07d12" stroke-width="1.05" stroke-opacity="0.6"/>
</g>
<text transform="translate(1253.16,242.60) scale(0.9604,1)" font-size="12.12" font-family='"Liberation Sans", sans-serif' fill="#262626" >5</text>
<text transform="translate(1262.94,243.43) scale(1.0705,1)" font-size="13.58" font-family='"Liberation Sans", sans-serif' fill="#262626">×</text>
<text transform="translate(1274.52,242.60) scale(1.0326,1)" font-size="12.12" font-family='"Liberation Sans", sans-serif' fill="#262626" >10</text>
<text transform="translate(1289.38,238.16) scale(0.9571,1)" font-size="8.46" font-family='"Liberation Sans", sans-serif' fill="#262626" >4</text>
<text transform="translate(779.10,392.20) scale(1.1020,1)" font-size="20.20" font-family='"Liberation Sans", sans-serif' fill="#262626" >10</text>
<text transform="translate(803.86,384.80) scale(1.1516,1)" font-size="14.10" font-family='"Liberation Sans", sans-serif' fill="#262626" >1</text>
<text transform="translate(908.10,392.20) scale(1.1020,1)" font-size="20.20" font-family='"Liberation Sans", sans-serif' fill="#262626" >10</text>
<text transform="translate(933.34,384.80) scale(1.0743,1)" font-size="14.10" font-family='"Liberation Sans", sans-serif' fill="#262626" >2</text>
<text transform="translate(1037.10,392.20) scale(1.1020,1)" font-size="20.20" font-family='"Liberation Sans", sans-serif' fill="#262626" >10</text>
<text transform="translate(1062.56,384.80) scale(1.0023,1)" font-size="14.10" font-family='"Liberation Sans", sans-serif' fill="#262626" >3</text>
<text transform="translate(1166.10,392.20) scale(1.1020,1)" font-size="20.20" font-family='"Liberation Sans", sans-serif' fill="#262626" >10</text>
<text transform="translate(1191.79,384.80) scale(0.9571,1)" font-size="14.10" font-family='"Liberation Sans", sans-serif' fill="#262626" >4</text>
<text transform="translate(1239.37,392.20) scale(0.9604,1)" font-size="20.20" font-family='"Liberation Sans", sans-serif' fill="#262626" >5</text>
<text transform="translate(1255.67,393.59) scale(1.0705,1)" font-size="22.63" font-family='"Liberation Sans", sans-serif' fill="#262626">×</text>
<text transform="translate(1274.96,392.20) scale(1.0326,1)" font-size="20.20" font-family='"Liberation Sans", sans-serif' fill="#262626" >10</text>
<text transform="translate(1299.74,384.80) scale(0.9571,1)" font-size="14.10" font-family='"Liberation Sans", sans-serif' fill="#262626" >4</text>
<text transform="translate(947.58,416.80) scale(1.1328,1)" font-size="23.11" font-family='"Liberation Sans", sans-serif' fill="#262626" >#Training Samples</text>
<g transform="translate(718.30,238.85) rotate(-90)">
<text transform="translate(-0.57,0) scale(1.0902,1)" font-size="23.11" font-family='"Liberation Sans", sans-serif' fill="#262626">Test Error</text>
</g>
<text transform="translate(931.67,472.90) scale(1.0725,1)" font-size="32.52" font-family='"Liberation Serif", serif' fill="#000000" >(b)</text>
<text transform="translate(983.64,472.90) scale(1.0228,1)" font-size="32.52" font-family='"Liberation Serif", serif' fill="#000000" >CIFAR-100</text>
<clipPath id="clipc"><rect x="75.5" y="510.1" width="558.1" height="358.9"/></clipPath>
<line x1="157.50" y1="510.10" x2="157.50" y2="869.00" stroke="#cccccc" stroke-width="1.0" />
<line x1="364.50" y1="510.10" x2="364.50" y2="869.00" stroke="#cccccc" stroke-width="1.0" />
<line x1="571.50" y1="510.10" x2="571.50" y2="869.00" stroke="#cccccc" stroke-width="1.0" />
<line x1="75.50" y1="545.00" x2="633.60" y2="545.00" stroke="#cccccc" stroke-width="1.0" />
<text transform="translate(36.84,552.20) scale(1.0543,1)" font-size="20.98" font-family='"Liberation Sans", sans-serif' fill="#262626" >90</text>
<line x1="75.50" y1="643.70" x2="633.60" y2="643.70" stroke="#cccccc" stroke-width="1.0" />
<text transform="translate(36.91,650.90) scale(1.0355,1)" font-size="20.98" font-family='"Liberation Sans", sans-serif' fill="#262626" >65</text>
<line x1="75.50" y1="742.20" x2="633.60" y2="742.20" stroke="#cccccc" stroke-width="1.0" />
<text transform="translate(37.10,749.40) scale(1.0430,1)" font-size="20.98" font-family='"Liberation Sans", sans-serif' fill="#262626" >40</text>
<line x1="75.50" y1="841.10" x2="633.60" y2="841.10" stroke="#cccccc" stroke-width="1.0" />
<text transform="translate(37.17,848.30) scale(1.0238,1)" font-size="20.98" font-family='"Liberation Sans", sans-serif' fill="#262626" >15</text>
<rect x="75.5" y="510.1" width="558.1" height="358.9" fill="none" stroke="#cccccc" stroke-width="1.1"/>
<g clip-path="url(#clipc)">
<path d="M95.20,546.50 L157.50,583.30 L302.20,635.60 L364.50,707.60 L509.20,822.40 L571.50,866.50" fill="none" stroke="#cf2024" stroke-width="1.45" stroke-linejoin="round"/>
<circle cx="95.20" cy="546.50" r="2.35" fill="#cf2024"/>
<circle cx="157.50" cy="583.30" r="2.35" fill="#cf2024"/>
<circle cx="302.20" cy="635.60" r="2.35" fill="#cf2024"/>
<circle cx="364.50" cy="707.60" r="2.35" fill="#cf2024"/>
<circle cx="509.20" cy="822.40" r="2.35" fill="#cf2024"/>
<circle cx="571.50" cy="866.50" r="2.35" fill="#cf2024"/>
<line x1="95.20" y1="541.00" x2="95.20" y2="552.00" stroke="#cf2024" stroke-width="1.05" />
<line x1="91.30" y1="541.00" x2="99.10" y2="541.00" stroke="#cf2024" stroke-width="1.05" stroke-opacity="0.6"/>
<line x1="91.30" y1="552.00" x2="99.10" y2="552.00" stroke="#cf2024" stroke-width="1.05" stroke-opacity="0.6"/>
<line x1="157.50" y1="579.00" x2="157.50" y2="587.60" stroke="#cf2024" stroke-width="1.05" />
<line x1="153.60" y1="579.00" x2="161.40" y2="579.00" stroke="#cf2024" stroke-width="1.05" stroke-opacity="0.6"/>
<line x1="153.60" y1="587.60" x2="161.40" y2="587.60" stroke="#cf2024" stroke-width="1.05" stroke-opacity="0.6"/>
<line x1="302.20" y1="631.20" x2="302.20" y2="640.70" stroke="#cf2024" stroke-width="1.05" />
<line x1="298.30" y1="631.20" x2="306.10" y2="631.20" stroke="#cf2024" stroke-width="1.05" stroke-opacity="0.6"/>
<line x1="298.30" y1="640.70" x2="306.10" y2="640.70" stroke="#cf2024" stroke-width="1.05" stroke-opacity="0.6"/>
<line x1="364.50" y1="703.60" x2="364.50" y2="711.60" stroke="#cf2024" stroke-width="1.05" />
<line x1="360.60" y1="703.60" x2="368.40" y2="703.60" stroke="#cf2024" stroke-width="1.05" stroke-opacity="0.6"/>
<line x1="360.60" y1="711.60" x2="368.40" y2="711.60" stroke="#cf2024" stroke-width="1.05" stroke-opacity="0.6"/>
<line x1="509.20" y1="820.90" x2="509.20" y2="823.90" stroke="#cf2024" stroke-width="1.05" />
<line x1="505.30" y1="820.90" x2="513.10" y2="820.90" stroke="#cf2024" stroke-width="1.05" stroke-opacity="0.6"/>
<line x1="505.30" y1="823.90" x2="513.10" y2="823.90" stroke="#cf2024" stroke-width="1.05" stroke-opacity="0.6"/>
<line x1="571.50" y1="864.90" x2="571.50" y2="868.10" stroke="#cf2024" stroke-width="1.05" />
<line x1="567.60" y1="864.90" x2="575.40" y2="864.90" stroke="#cf2024" stroke-width="1.05" stroke-opacity="0.6"/>
<line x1="567.60" y1="868.10" x2="575.40" y2="868.10" stroke="#cf2024" stroke-width="1.05" stroke-opacity="0.6"/>
<path d="M95.20,535.50 L157.50,557.50 L302.20,598.10 L364.50,679.60 L509.20,806.00 L571.50,866.00" fill="none" stroke="#3474ad" stroke-width="1.45" stroke-linejoin="round"/>
<circle cx="95.20" cy="535.50" r="2.35" fill="#3474ad"/>
<circle cx="157.50" cy="557.50" r="2.35" fill="#3474ad"/>
<circle cx="302.20" cy="598.10" r="2.35" fill="#3474ad"/>
<circle cx="364.50" cy="679.60" r="2.35" fill="#3474ad"/>
<circle cx="509.20" cy="806.00" r="2.35" fill="#3474ad"/>
<circle cx="571.50" cy="866.00" r="2.35" fill="#3474ad"/>
<line x1="95.20" y1="531.00" x2="95.20" y2="541.00" stroke="#3474ad" stroke-width="1.05" />
<line x1="91.30" y1="531.00" x2="99.10" y2="531.00" stroke="#3474ad" stroke-width="1.05" stroke-opacity="0.6"/>
<line x1="91.30" y1="541.00" x2="99.10" y2="541.00" stroke="#3474ad" stroke-width="1.05" stroke-opacity="0.6"/>
<line x1="157.50" y1="553.90" x2="157.50" y2="561.20" stroke="#3474ad" stroke-width="1.05" />
<line x1="153.60" y1="553.90" x2="161.40" y2="553.90" stroke="#3474ad" stroke-width="1.05" stroke-opacity="0.6"/>
<line x1="153.60" y1="561.20" x2="161.40" y2="561.20" stroke="#3474ad" stroke-width="1.05" stroke-opacity="0.6"/>
<line x1="302.20" y1="593.00" x2="302.20" y2="602.10" stroke="#3474ad" stroke-width="1.05" />
<line x1="298.30" y1="593.00" x2="306.10" y2="593.00" stroke="#3474ad" stroke-width="1.05" stroke-opacity="0.6"/>
<line x1="298.30" y1="602.10" x2="306.10" y2="602.10" stroke="#3474ad" stroke-width="1.05" stroke-opacity="0.6"/>
<line x1="364.50" y1="677.20" x2="364.50" y2="682.30" stroke="#3474ad" stroke-width="1.05" />
<line x1="360.60" y1="677.20" x2="368.40" y2="677.20" stroke="#3474ad" stroke-width="1.05" stroke-opacity="0.6"/>
<line x1="360.60" y1="682.30" x2="368.40" y2="682.30" stroke="#3474ad" stroke-width="1.05" stroke-opacity="0.6"/>
<line x1="509.20" y1="804.50" x2="509.20" y2="807.50" stroke="#3474ad" stroke-width="1.05" />
<line x1="505.30" y1="804.50" x2="513.10" y2="804.50" stroke="#3474ad" stroke-width="1.05" stroke-opacity="0.6"/>
<line x1="505.30" y1="807.50" x2="513.10" y2="807.50" stroke="#3474ad" stroke-width="1.05" stroke-opacity="0.6"/>
<line x1="571.50" y1="864.40" x2="571.50" y2="867.60" stroke="#3474ad" stroke-width="1.05" />
<line x1="567.60" y1="864.40" x2="575.40" y2="864.40" stroke="#3474ad" stroke-width="1.05" stroke-opacity="0.6"/>
<line x1="567.60" y1="867.60" x2="575.40" y2="867.60" stroke="#3474ad" stroke-width="1.05" stroke-opacity="0.6"/>
<path d="M95.20,517.50 L157.50,528.00 L302.20,550.40 L364.50,619.40 L509.20,777.60 L571.50,856.50" fill="none" stroke="#479f45" stroke-width="1.45" stroke-linejoin="round"/>
<circle cx="95.20" cy="517.50" r="2.35" fill="#479f45"/>
<circle cx="157.50" cy="528.00" r="2.35" fill="#479f45"/>
<circle cx="302.20" cy="550.40" r="2.35" fill="#479f45"/>
<circle cx="364.50" cy="619.40" r="2.35" fill="#479f45"/>
<circle cx="509.20" cy="777.60" r="2.35" fill="#479f45"/>
<circle cx="571.50" cy="856.50" r="2.35" fill="#479f45"/>
<line x1="95.20" y1="512.50" x2="95.20" y2="522.50" stroke="#479f45" stroke-width="1.05" />
<line x1="91.30" y1="512.50" x2="99.10" y2="512.50" stroke="#479f45" stroke-width="1.05" stroke-opacity="0.6"/>
<line x1="91.30" y1="522.50" x2="99.10" y2="522.50" stroke="#479f45" stroke-width="1.05" stroke-opacity="0.6"/>
<line x1="157.50" y1="523.00" x2="157.50" y2="533.00" stroke="#479f45" stroke-width="1.05" />
<line x1="153.60" y1="523.00" x2="161.40" y2="523.00" stroke="#479f45" stroke-width="1.05" stroke-opacity="0.6"/>
<line x1="153.60" y1="533.00" x2="161.40" y2="533.00" stroke="#479f45" stroke-width="1.05" stroke-opacity="0.6"/>
<line x1="302.20" y1="546.30" x2="302.20" y2="554.50" stroke="#479f45" stroke-width="1.05" />
<line x1="298.30" y1="546.30" x2="306.10" y2="546.30" stroke="#479f45" stroke-width="1.05" stroke-opacity="0.6"/>
<line x1="298.30" y1="554.50" x2="306.10" y2="554.50" stroke="#479f45" stroke-width="1.05" stroke-opacity="0.6"/>
<line x1="364.50" y1="614.90" x2="364.50" y2="623.90" stroke="#479f45" stroke-width="1.05" />
<line x1="360.60" y1="614.90" x2="368.40" y2="614.90" stroke="#479f45" stroke-width="1.05" stroke-opacity="0.6"/>
<line x1="360.60" y1="623.90" x2="368.40" y2="623.90" stroke="#479f45" stroke-width="1.05" stroke-opacity="0.6"/>
<line x1="509.20" y1="775.60" x2="509.20" y2="779.60" stroke="#479f45" stroke-width="1.05" />
<line x1="505.30" y1="775.60" x2="513.10" y2="775.60" stroke="#479f45" stroke-width="1.05" stroke-opacity="0.6"/>
<line x1="505.30" y1="779.60" x2="513.10" y2="779.60" stroke="#479f45" stroke-width="1.05" stroke-opacity="0.6"/>
<line x1="571.50" y1="855.00" x2="571.50" y2="858.00" stroke="#479f45" stroke-width="1.05" />
<line x1="567.60" y1="855.00" x2="575.40" y2="855.00" stroke="#479f45" stroke-width="1.05" stroke-opacity="0.6"/>
<line x1="567.60" y1="858.00" x2="575.40" y2="858.00" stroke="#479f45" stroke-width="1.05" stroke-opacity="0.6"/>
<path d="M95.20,522.30 L157.50,533.50 L302.20,576.80 L364.50,640.10 L509.20,804.60 L571.50,865.50" fill="none" stroke="#8d4597" stroke-width="1.45" stroke-linejoin="round"/>
<circle cx="95.20" cy="522.30" r="2.35" fill="#8d4597"/>
<circle cx="157.50" cy="533.50" r="2.35" fill="#8d4597"/>
<circle cx="302.20" cy="576.80" r="2.35" fill="#8d4597"/>
<circle cx="364.50" cy="640.10" r="2.35" fill="#8d4597"/>
<circle cx="509.20" cy="804.60" r="2.35" fill="#8d4597"/>
<circle cx="571.50" cy="865.50" r="2.35" fill="#8d4597"/>
<line x1="95.20" y1="518.70" x2="95.20" y2="525.90" stroke="#8d4597" stroke-width="1.05" />
<line x1="91.30" y1="518.70" x2="99.10" y2="518.70" stroke="#8d4597" stroke-width="1.05" stroke-opacity="0.6"/>
<line x1="91.30" y1="525.90" x2="99.10" y2="525.90" stroke="#8d4597" stroke-width="1.05" stroke-opacity="0.6"/>
<line x1="157.50" y1="529.00" x2="157.50" y2="538.00" stroke="#8d4597" stroke-width="1.05" />
<line x1="153.60" y1="529.00" x2="161.40" y2="529.00" stroke="#8d4597" stroke-width="1.05" stroke-opacity="0.6"/>
<line x1="153.60" y1="538.00" x2="161.40" y2="538.00" stroke="#8d4597" stroke-width="1.05" stroke-opacity="0.6"/>
<line x1="302.20" y1="573.80" x2="302.20" y2="579.80" stroke="#8d4597" stroke-width="1.05" />
<line x1="298.30" y1="573.80" x2="306.10" y2="573.80" stroke="#8d4597" stroke-width="1.05" stroke-opacity="0.6"/>
<line x1="298.30" y1="579.80" x2="306.10" y2="579.80" stroke="#8d4597" stroke-width="1.05" stroke-opacity="0.6"/>
<line x1="364.50" y1="637.20" x2="364.50" y2="643.00" stroke="#8d4597" stroke-width="1.05" />
<line x1="360.60" y1="637.20" x2="368.40" y2="637.20" stroke="#8d4597" stroke-width="1.05" stroke-opacity="0.6"/>
<line x1="360.60" y1="643.00" x2="368.40" y2="643.00" stroke="#8d4597" stroke-width="1.05" stroke-opacity="0.6"/>
<line x1="509.20" y1="802.60" x2="509.20" y2="806.60" stroke="#8d4597" stroke-width="1.05" />
<line x1="505.30" y1="802.60" x2="513.10" y2="802.60" stroke="#8d4597" stroke-width="1.05" stroke-opacity="0.6"/>
<line x1="505.30" y1="806.60" x2="513.10" y2="806.60" stroke="#8d4597" stroke-width="1.05" stroke-opacity="0.6"/>
<line x1="571.50" y1="863.90" x2="571.50" y2="867.10" stroke="#8d4597" stroke-width="1.05" />
<line x1="567.60" y1="863.90" x2="575.40" y2="863.90" stroke="#8d4597" stroke-width="1.05" stroke-opacity="0.6"/>
<line x1="567.60" y1="867.10" x2="575.40" y2="867.10" stroke="#8d4597" stroke-width="1.05" stroke-opacity="0.6"/>
<path d="M95.20,516.20 L157.50,526.20 L302.20,545.40 L364.50,623.40 L509.20,769.10 L571.50,852.20" fill="none" stroke="#f07d12" stroke-width="1.45" stroke-linejoin="round"/>
<circle cx="95.20" cy="516.20" r="2.35" fill="#f07d12"/>
<circle cx="157.50" cy="526.20" r="2.35" fill="#f07d12"/>
<circle cx="302.20" cy="545.40" r="2.35" fill="#f07d12"/>
<circle cx="364.50" cy="623.40" r="2.35" fill="#f07d12"/>
<circle cx="509.20" cy="769.10" r="2.35" fill="#f07d12"/>
<circle cx="571.50" cy="852.20" r="2.35" fill="#f07d12"/>
<line x1="95.20" y1="512.20" x2="95.20" y2="520.20" stroke="#f07d12" stroke-width="1.05" />
<line x1="91.30" y1="512.20" x2="99.10" y2="512.20" stroke="#f07d12" stroke-width="1.05" stroke-opacity="0.6"/>
<line x1="91.30" y1="520.20" x2="99.10" y2="520.20" stroke="#f07d12" stroke-width="1.05" stroke-opacity="0.6"/>
<line x1="157.50" y1="520.70" x2="157.50" y2="531.70" stroke="#f07d12" stroke-width="1.05" />
<line x1="153.60" y1="520.70" x2="161.40" y2="520.70" stroke="#f07d12" stroke-width="1.05" stroke-opacity="0.6"/>
<line x1="153.60" y1="531.70" x2="161.40" y2="531.70" stroke="#f07d12" stroke-width="1.05" stroke-opacity="0.6"/>
<line x1="302.20" y1="540.30" x2="302.20" y2="550.50" stroke="#f07d12" stroke-width="1.05" />
<line x1="298.30" y1="540.30" x2="306.10" y2="540.30" stroke="#f07d12" stroke-width="1.05" stroke-opacity="0.6"/>
<line x1="298.30" y1="550.50" x2="306.10" y2="550.50" stroke="#f07d12" stroke-width="1.05" stroke-opacity="0.6"/>
<line x1="364.50" y1="618.30" x2="364.50" y2="628.50" stroke="#f07d12" stroke-width="1.05" />
<line x1="360.60" y1="618.30" x2="368.40" y2="618.30" stroke="#f07d12" stroke-width="1.05" stroke-opacity="0.6"/>
<line x1="360.60" y1="628.50" x2="368.40" y2="628.50" stroke="#f07d12" stroke-width="1.05" stroke-opacity="0.6"/>
<line x1="509.20" y1="767.10" x2="509.20" y2="771.10" stroke="#f07d12" stroke-width="1.05" />
<line x1="505.30" y1="767.10" x2="513.10" y2="767.10" stroke="#f07d12" stroke-width="1.05" stroke-opacity="0.6"/>
<line x1="505.30" y1="771.10" x2="513.10" y2="771.10" stroke="#f07d12" stroke-width="1.05" stroke-opacity="0.6"/>
<line x1="571.50" y1="850.70" x2="571.50" y2="853.70" stroke="#f07d12" stroke-width="1.05" />
<line x1="567.60" y1="850.70" x2="575.40" y2="850.70" stroke="#f07d12" stroke-width="1.05" stroke-opacity="0.6"/>
<line x1="567.60" y1="853.70" x2="575.40" y2="853.70" stroke="#f07d12" stroke-width="1.05" stroke-opacity="0.6"/>
</g>
<line x1="538.30" y1="730.20" x2="571.50" y2="866.00" stroke="#bdbdbd" stroke-width="1.0" />
<line x1="605.50" y1="730.20" x2="571.50" y2="866.00" stroke="#bdbdbd" stroke-width="1.0" />
<rect x="538.3" y="544.5" width="67.20000000000005" height="185.70000000000005" fill="#ffffff"/>
<clipPath id="iclipc"><rect x="538.3" y="544.5" width="67.20000000000005" height="185.70000000000005"/></clipPath>
<line x1="572.10" y1="544.50" x2="572.10" y2="730.20" stroke="#cccccc" stroke-width="1.0" />
<line x1="538.30" y1="593.00" x2="605.50" y2="593.00" stroke="#cccccc" stroke-width="1.0" />
<text transform="translate(498.10,597.85) scale(1.1432,1)" font-size="11.66" font-family='"Liberation Sans", sans-serif' fill="#262626" >11.0</text>
<line x1="538.30" y1="653.00" x2="605.50" y2="653.00" stroke="#cccccc" stroke-width="1.0" />
<text transform="translate(505.51,657.85) scale(1.1298,1)" font-size="11.66" font-family='"Liberation Sans", sans-serif' fill="#262626" >9.5</text>
<line x1="538.30" y1="713.20" x2="605.50" y2="713.20" stroke="#cccccc" stroke-width="1.0" />
<text transform="translate(505.61,718.05) scale(1.1369,1)" font-size="11.66" font-family='"Liberation Sans", sans-serif' fill="#262626" >8.0</text>
<rect x="538.3" y="544.5" width="67.20000000000005" height="185.70000000000005" fill="none" stroke="#cccccc" stroke-width="1.0"/>
<g clip-path="url(#iclipc)">
<path d="M536.30,715.00 L572.10,720.90" fill="none" stroke="#cf2024" stroke-width="1.6" stroke-linejoin="round"/>
<circle cx="572.10" cy="720.90" r="2.7" fill="#cf2024"/>
<line x1="572.10" y1="716.20" x2="572.10" y2="725.60" stroke="#cf2024" stroke-width="1.05" />
<line x1="568.30" y1="716.20" x2="575.90" y2="716.20" stroke="#cf2024" stroke-width="1.05" stroke-opacity="0.6"/>
<line x1="568.30" y1="725.60" x2="575.90" y2="725.60" stroke="#cf2024" stroke-width="1.05" stroke-opacity="0.6"/>
<path d="M536.30,696.90 L572.10,704.60" fill="none" stroke="#3474ad" stroke-width="1.6" stroke-linejoin="round"/>
<circle cx="572.10" cy="704.60" r="2.7" fill="#3474ad"/>
<line x1="572.10" y1="701.00" x2="572.10" y2="708.50" stroke="#3474ad" stroke-width="1.05" />
<line x1="568.30" y1="701.00" x2="575.90" y2="701.00" stroke="#3474ad" stroke-width="1.05" stroke-opacity="0.6"/>
<line x1="568.30" y1="708.50" x2="575.90" y2="708.50" stroke="#3474ad" stroke-width="1.05" stroke-opacity="0.6"/>
<path d="M536.30,586.00 L572.10,597.00" fill="none" stroke="#479f45" stroke-width="1.6" stroke-linejoin="round"/>
<circle cx="572.10" cy="597.00" r="2.7" fill="#479f45"/>
<line x1="572.10" y1="590.00" x2="572.10" y2="604.00" stroke="#479f45" stroke-width="1.05" />
<line x1="568.30" y1="590.00" x2="575.90" y2="590.00" stroke="#479f45" stroke-width="1.05" stroke-opacity="0.6"/>
<line x1="568.30" y1="604.00" x2="575.90" y2="604.00" stroke="#479f45" stroke-width="1.05" stroke-opacity="0.6"/>
<path d="M536.30,677.00 L572.10,684.70" fill="none" stroke="#8d4597" stroke-width="1.6" stroke-linejoin="round"/>
<circle cx="572.10" cy="684.70" r="2.7" fill="#8d4597"/>
<line x1="572.10" y1="682.00" x2="572.10" y2="687.50" stroke="#8d4597" stroke-width="1.05" />
<line x1="568.30" y1="682.00" x2="575.90" y2="682.00" stroke="#8d4597" stroke-width="1.05" stroke-opacity="0.6"/>
<line x1="568.30" y1="687.50" x2="575.90" y2="687.50" stroke="#8d4597" stroke-width="1.05" stroke-opacity="0.6"/>
<path d="M536.30,545.90 L572.10,557.30" fill="none" stroke="#f07d12" stroke-width="1.6" stroke-linejoin="round"/>
<circle cx="572.10" cy="557.30" r="2.7" fill="#f07d12"/>
<line x1="572.10" y1="552.20" x2="572.10" y2="562.70" stroke="#f07d12" stroke-width="1.05" />
<line x1="568.30" y1="552.20" x2="575.90" y2="552.20" stroke="#f07d12" stroke-width="1.05" stroke-opacity="0.6"/>
<line x1="568.30" y1="562.70" x2="575.90" y2="562.70" stroke="#f07d12" stroke-width="1.05" stroke-opacity="0.6"/>
</g>
<text transform="translate(561.66,753.00) scale(1.1020,1)" font-size="12.12" font-family='"Liberation Sans", sans-serif' fill="#262626" >10</text>
<text transform="translate(576.94,748.56) scale(1.0023,1)" font-size="8.46" font-family='"Liberation Sans", sans-serif' fill="#262626" >3</text>
<text transform="translate(140.10,897.60) scale(1.1020,1)" font-size="20.20" font-family='"Liberation Sans", sans-serif' fill="#262626" >10</text>
<text transform="translate(164.86,890.20) scale(1.1516,1)" font-size="14.10" font-family='"Liberation Sans", sans-serif' fill="#262626" >1</text>
<text transform="translate(347.10,897.60) scale(1.1020,1)" font-size="20.20" font-family='"Liberation Sans", sans-serif' fill="#262626" >10</text>
<text transform="translate(372.34,890.20) scale(1.0743,1)" font-size="14.10" font-family='"Liberation Sans", sans-serif' fill="#262626" >2</text>
<text transform="translate(554.10,897.60) scale(1.1020,1)" font-size="20.20" font-family='"Liberation Sans", sans-serif' fill="#262626" >10</text>
<text transform="translate(579.56,890.20) scale(1.0023,1)" font-size="14.10" font-family='"Liberation Sans", sans-serif' fill="#262626" >3</text>
<text transform="translate(246.58,922.60) scale(1.1328,1)" font-size="23.11" font-family='"Liberation Sans", sans-serif' fill="#262626" >#Training Samples</text>
<g transform="translate(16.50,744.55) rotate(-90)">
<text transform="translate(-0.57,0) scale(1.0902,1)" font-size="23.11" font-family='"Liberation Sans", sans-serif' fill="#262626">Test Error</text>
</g>
<text transform="translate(173.41,978.40) scale(1.0411,1)" font-size="32.52" font-family='"Liberation Serif", serif' fill="#000000" >(c)</text>
<text transform="translate(221.61,978.40) scale(1.0435,1)" font-size="32.52" font-family='"Liberation Serif", serif' fill="#000000" >Oxford</text>
<text transform="translate(330.55,978.40) scale(1.0145,1)" font-size="32.52" font-family='"Liberation Serif", serif' fill="#000000" >Flowers-102</text>
<clipPath id="clipd"><rect x="776.7" y="510.1" width="558.2" height="359.1"/></clipPath>
<line x1="865.10" y1="510.10" x2="865.10" y2="869.20" stroke="#cccccc" stroke-width="1.0" />
<line x1="1034.30" y1="510.10" x2="1034.30" y2="869.20" stroke="#cccccc" stroke-width="1.0" />
<line x1="1203.50" y1="510.10" x2="1203.50" y2="869.20" stroke="#cccccc" stroke-width="1.0" />
<line x1="1283.80" y1="510.10" x2="1283.80" y2="869.20" stroke="#cccccc" stroke-width="1.0" />
<line x1="776.70" y1="539.00" x2="1334.90" y2="539.00" stroke="#cccccc" stroke-width="1.0" />
<text transform="translate(737.74,546.20) scale(1.0543,1)" font-size="20.98" font-family='"Liberation Sans", sans-serif' fill="#262626" >90</text>
<line x1="776.70" y1="652.10" x2="1334.90" y2="652.10" stroke="#cccccc" stroke-width="1.0" />
<text transform="translate(737.81,659.30) scale(1.0355,1)" font-size="20.98" font-family='"Liberation Sans", sans-serif' fill="#262626" >65</text>
<line x1="776.70" y1="764.40" x2="1334.90" y2="764.40" stroke="#cccccc" stroke-width="1.0" />
<text transform="translate(738.00,771.60) scale(1.0430,1)" font-size="20.98" font-family='"Liberation Sans", sans-serif' fill="#262626" >40</text>
<rect x="776.7" y="510.1" width="558.2" height="359.1" fill="none" stroke="#cccccc" stroke-width="1.1"/>
<g clip-path="url(#clipd)">
<path d="M814.20,541.80 L865.10,579.70 L983.40,664.60 L1034.30,731.00 L1152.60,806.00 L1203.50,847.60 L1283.80,866.40" fill="none" stroke="#cf2024" stroke-width="1.45" stroke-linejoin="round"/>
<circle cx="814.20" cy="541.80" r="2.35" fill="#cf2024"/>
<circle cx="865.10" cy="579.70" r="2.35" fill="#cf2024"/>
<circle cx="983.40" cy="664.60" r="2.35" fill="#cf2024"/>
<circle cx="1034.30" cy="731.00" r="2.35" fill="#cf2024"/>
<circle cx="1152.60" cy="806.00" r="2.35" fill="#cf2024"/>
<circle cx="1203.50" cy="847.60" r="2.35" fill="#cf2024"/>
<circle cx="1283.80" cy="866.40" r="2.35" fill="#cf2024"/>
<line x1="814.20" y1="535.80" x2="814.20" y2="547.80" stroke="#cf2024" stroke-width="1.05" />
<line x1="810.30" y1="535.80" x2="818.10" y2="535.80" stroke="#cf2024" stroke-width="1.05" stroke-opacity="0.6"/>
<line x1="810.30" y1="547.80" x2="818.10" y2="547.80" stroke="#cf2024" stroke-width="1.05" stroke-opacity="0.6"/>
<line x1="865.10" y1="573.70" x2="865.10" y2="585.20" stroke="#cf2024" stroke-width="1.05" />
<line x1="861.20" y1="573.70" x2="869.00" y2="573.70" stroke="#cf2024" stroke-width="1.05" stroke-opacity="0.6"/>
<line x1="861.20" y1="585.20" x2="869.00" y2="585.20" stroke="#cf2024" stroke-width="1.05" stroke-opacity="0.6"/>
<line x1="983.40" y1="660.00" x2="983.40" y2="669.50" stroke="#cf2024" stroke-width="1.05" />
<line x1="979.50" y1="660.00" x2="987.30" y2="660.00" stroke="#cf2024" stroke-width="1.05" stroke-opacity="0.6"/>
<line x1="979.50" y1="669.50" x2="987.30" y2="669.50" stroke="#cf2024" stroke-width="1.05" stroke-opacity="0.6"/>
<line x1="1034.30" y1="726.10" x2="1034.30" y2="735.20" stroke="#cf2024" stroke-width="1.05" />
<line x1="1030.40" y1="726.10" x2="1038.20" y2="726.10" stroke="#cf2024" stroke-width="1.05" stroke-opacity="0.6"/>
<line x1="1030.40" y1="735.20" x2="1038.20" y2="735.20" stroke="#cf2024" stroke-width="1.05" stroke-opacity="0.6"/>
<line x1="1152.60" y1="803.20" x2="1152.60" y2="808.80" stroke="#cf2024" stroke-width="1.05" />
<line x1="1148.70" y1="803.20" x2="1156.50" y2="803.20" stroke="#cf2024" stroke-width="1.05" stroke-opacity="0.6"/>
<line x1="1148.70" y1="808.80" x2="1156.50" y2="808.80" stroke="#cf2024" stroke-width="1.05" stroke-opacity="0.6"/>
<line x1="1203.50" y1="844.80" x2="1203.50" y2="850.40" stroke="#cf2024" stroke-width="1.05" />
<line x1="1199.60" y1="844.80" x2="1207.40" y2="844.80" stroke="#cf2024" stroke-width="1.05" stroke-opacity="0.6"/>
<line x1="1199.60" y1="850.40" x2="1207.40" y2="850.40" stroke="#cf2024" stroke-width="1.05" stroke-opacity="0.6"/>
<line x1="1283.80" y1="864.80" x2="1283.80" y2="868.00" stroke="#cf2024" stroke-width="1.05" />
<line x1="1279.90" y1="864.80" x2="1287.70" y2="864.80" stroke="#cf2024" stroke-width="1.05" stroke-opacity="0.6"/>
<line x1="1279.90" y1="868.00" x2="1287.70" y2="868.00" stroke="#cf2024" stroke-width="1.05" stroke-opacity="0.6"/>
<path d="M814.20,531.40 L865.10,562.70 L983.40,646.30 L1034.30,713.30 L1152.60,790.80 L1203.50,836.80 L1283.80,861.40" fill="none" stroke="#3474ad" stroke-width="1.45" stroke-linejoin="round"/>
<circle cx="814.20" cy="531.40" r="2.35" fill="#3474ad"/>
<circle cx="865.10" cy="562.70" r="2.35" fill="#3474ad"/>
<circle cx="983.40" cy="646.30" r="2.35" fill="#3474ad"/>
<circle cx="1034.30" cy="713.30" r="2.35" fill="#3474ad"/>
<circle cx="1152.60" cy="790.80" r="2.35" fill="#3474ad"/>
<circle cx="1203.50" cy="836.80" r="2.35" fill="#3474ad"/>
<circle cx="1283.80" cy="861.40" r="2.35" fill="#3474ad"/>
<line x1="814.20" y1="527.50" x2="814.20" y2="535.30" stroke="#3474ad" stroke-width="1.05" />
<line x1="810.30" y1="527.50" x2="818.10" y2="527.50" stroke="#3474ad" stroke-width="1.05" stroke-opacity="0.6"/>
<line x1="810.30" y1="535.30" x2="818.10" y2="535.30" stroke="#3474ad" stroke-width="1.05" stroke-opacity="0.6"/>
<line x1="865.10" y1="557.80" x2="865.10" y2="568.20" stroke="#3474ad" stroke-width="1.05" />
<line x1="861.20" y1="557.80" x2="869.00" y2="557.80" stroke="#3474ad" stroke-width="1.05" stroke-opacity="0.6"/>
<line x1="861.20" y1="568.20" x2="869.00" y2="568.20" stroke="#3474ad" stroke-width="1.05" stroke-opacity="0.6"/>
<line x1="983.40" y1="640.80" x2="983.40" y2="651.20" stroke="#3474ad" stroke-width="1.05" />
<line x1="979.50" y1="640.80" x2="987.30" y2="640.80" stroke="#3474ad" stroke-width="1.05" stroke-opacity="0.6"/>
<line x1="979.50" y1="651.20" x2="987.30" y2="651.20" stroke="#3474ad" stroke-width="1.05" stroke-opacity="0.6"/>
<line x1="1034.30" y1="709.70" x2="1034.30" y2="717.90" stroke="#3474ad" stroke-width="1.05" />
<line x1="1030.40" y1="709.70" x2="1038.20" y2="709.70" stroke="#3474ad" stroke-width="1.05" stroke-opacity="0.6"/>
<line x1="1030.40" y1="717.90" x2="1038.20" y2="717.90" stroke="#3474ad" stroke-width="1.05" stroke-opacity="0.6"/>
<line x1="1152.60" y1="788.00" x2="1152.60" y2="793.60" stroke="#3474ad" stroke-width="1.05" />
<line x1="1148.70" y1="788.00" x2="1156.50" y2="788.00" stroke="#3474ad" stroke-width="1.05" stroke-opacity="0.6"/>
<line x1="1148.70" y1="793.60" x2="1156.50" y2="793.60" stroke="#3474ad" stroke-width="1.05" stroke-opacity="0.6"/>
<line x1="1203.50" y1="834.00" x2="1203.50" y2="839.60" stroke="#3474ad" stroke-width="1.05" />
<line x1="1199.60" y1="834.00" x2="1207.40" y2="834.00" stroke="#3474ad" stroke-width="1.05" stroke-opacity="0.6"/>
<line x1="1199.60" y1="839.60" x2="1207.40" y2="839.60" stroke="#3474ad" stroke-width="1.05" stroke-opacity="0.6"/>
<line x1="1283.80" y1="859.80" x2="1283.80" y2="863.00" stroke="#3474ad" stroke-width="1.05" />
<line x1="1279.90" y1="859.80" x2="1287.70" y2="859.80" stroke="#3474ad" stroke-width="1.05" stroke-opacity="0.6"/>
<line x1="1279.90" y1="863.00" x2="1287.70" y2="863.00" stroke="#3474ad" stroke-width="1.05" stroke-opacity="0.6"/>
<path d="M814.20,523.70 L865.10,524.30 L983.40,592.30 L1034.30,661.30 L1152.60,761.30 L1203.50,820.20 L1283.80,851.50" fill="none" stroke="#479f45" stroke-width="1.45" stroke-linejoin="round"/>
<circle cx="814.20" cy="523.70" r="2.35" fill="#479f45"/>
<circle cx="865.10" cy="524.30" r="2.35" fill="#479f45"/>
<circle cx="983.40" cy="592.30" r="2.35" fill="#479f45"/>
<circle cx="1034.30" cy="661.30" r="2.35" fill="#479f45"/>
<circle cx="1152.60" cy="761.30" r="2.35" fill="#479f45"/>
<circle cx="1203.50" cy="820.20" r="2.35" fill="#479f45"/>
<circle cx="1283.80" cy="851.50" r="2.35" fill="#479f45"/>
<line x1="814.20" y1="520.70" x2="814.20" y2="526.70" stroke="#479f45" stroke-width="1.05" />
<line x1="810.30" y1="520.70" x2="818.10" y2="520.70" stroke="#479f45" stroke-width="1.05" stroke-opacity="0.6"/>
<line x1="810.30" y1="526.70" x2="818.10" y2="526.70" stroke="#479f45" stroke-width="1.05" stroke-opacity="0.6"/>
<line x1="865.10" y1="518.30" x2="865.10" y2="530.30" stroke="#479f45" stroke-width="1.05" />
<line x1="861.20" y1="518.30" x2="869.00" y2="518.30" stroke="#479f45" stroke-width="1.05" stroke-opacity="0.6"/>
<line x1="861.20" y1="530.30" x2="869.00" y2="530.30" stroke="#479f45" stroke-width="1.05" stroke-opacity="0.6"/>
<line x1="983.40" y1="586.10" x2="983.40" y2="598.50" stroke="#479f45" stroke-width="1.05" />
<line x1="979.50" y1="586.10" x2="987.30" y2="586.10" stroke="#479f45" stroke-width="1.05" stroke-opacity="0.6"/>
<line x1="979.50" y1="598.50" x2="987.30" y2="598.50" stroke="#479f45" stroke-width="1.05" stroke-opacity="0.6"/>
<line x1="1034.30" y1="654.90" x2="1034.30" y2="667.70" stroke="#479f45" stroke-width="1.05" />
<line x1="1030.40" y1="654.90" x2="1038.20" y2="654.90" stroke="#479f45" stroke-width="1.05" stroke-opacity="0.6"/>
<line x1="1030.40" y1="667.70" x2="1038.20" y2="667.70" stroke="#479f45" stroke-width="1.05" stroke-opacity="0.6"/>
<line x1="1152.60" y1="758.50" x2="1152.60" y2="764.10" stroke="#479f45" stroke-width="1.05" />
<line x1="1148.70" y1="758.50" x2="1156.50" y2="758.50" stroke="#479f45" stroke-width="1.05" stroke-opacity="0.6"/>
<line x1="1148.70" y1="764.10" x2="1156.50" y2="764.10" stroke="#479f45" stroke-width="1.05" stroke-opacity="0.6"/>
<line x1="1203.50" y1="817.40" x2="1203.50" y2="823.00" stroke="#479f45" stroke-width="1.05" />
<line x1="1199.60" y1="817.40" x2="1207.40" y2="817.40" stroke="#479f45" stroke-width="1.05" stroke-opacity="0.6"/>
<line x1="1199.60" y1="823.00" x2="1207.40" y2="823.00" stroke="#479f45" stroke-width="1.05" stroke-opacity="0.6"/>
<line x1="1283.80" y1="849.90" x2="1283.80" y2="853.10" stroke="#479f45" stroke-width="1.05" />
<line x1="1279.90" y1="849.90" x2="1287.70" y2="849.90" stroke="#479f45" stroke-width="1.05" stroke-opacity="0.6"/>
<line x1="1279.90" y1="853.10" x2="1287.70" y2="853.10" stroke="#479f45" stroke-width="1.05" stroke-opacity="0.6"/>
<path d="M814.20,517.00 L865.10,545.70 L983.40,619.70 L1034.30,692.70 L1152.60,780.90 L1203.50,832.00 L1283.80,859.30" fill="none" stroke="#8d4597" stroke-width="1.45" stroke-linejoin="round"/>
<circle cx="814.20" cy="517.00" r="2.35" fill="#8d4597"/>
<circle cx="865.10" cy="545.70" r="2.35" fill="#8d4597"/>
<circle cx="983.40" cy="619.70" r="2.35" fill="#8d4597"/>
<circle cx="1034.30" cy="692.70" r="2.35" fill="#8d4597"/>
<circle cx="1152.60" cy="780.90" r="2.35" fill="#8d4597"/>
<circle cx="1203.50" cy="832.00" r="2.35" fill="#8d4597"/>
<circle cx="1283.80" cy="859.30" r="2.35" fill="#8d4597"/>
<line x1="814.20" y1="510.00" x2="814.20" y2="524.00" stroke="#8d4597" stroke-width="1.05" />
<line x1="810.30" y1="510.00" x2="818.10" y2="510.00" stroke="#8d4597" stroke-width="1.05" stroke-opacity="0.6"/>
<line x1="810.30" y1="524.00" x2="818.10" y2="524.00" stroke="#8d4597" stroke-width="1.05" stroke-opacity="0.6"/>
<line x1="865.10" y1="541.50" x2="865.10" y2="549.90" stroke="#8d4597" stroke-width="1.05" />
<line x1="861.20" y1="541.50" x2="869.00" y2="541.50" stroke="#8d4597" stroke-width="1.05" stroke-opacity="0.6"/>
<line x1="861.20" y1="549.90" x2="869.00" y2="549.90" stroke="#8d4597" stroke-width="1.05" stroke-opacity="0.6"/>
<line x1="983.40" y1="616.00" x2="983.40" y2="622.90" stroke="#8d4597" stroke-width="1.05" />
<line x1="979.50" y1="616.00" x2="987.30" y2="616.00" stroke="#8d4597" stroke-width="1.05" stroke-opacity="0.6"/>
<line x1="979.50" y1="622.90" x2="987.30" y2="622.90" stroke="#8d4597" stroke-width="1.05" stroke-opacity="0.6"/>
<line x1="1034.30" y1="689.60" x2="1034.30" y2="696.90" stroke="#8d4597" stroke-width="1.05" />
<line x1="1030.40" y1="689.60" x2="1038.20" y2="689.60" stroke="#8d4597" stroke-width="1.05" stroke-opacity="0.6"/>
<line x1="1030.40" y1="696.90" x2="1038.20" y2="696.90" stroke="#8d4597" stroke-width="1.05" stroke-opacity="0.6"/>
<line x1="1152.60" y1="778.10" x2="1152.60" y2="783.70" stroke="#8d4597" stroke-width="1.05" />
<line x1="1148.70" y1="778.10" x2="1156.50" y2="778.10" stroke="#8d4597" stroke-width="1.05" stroke-opacity="0.6"/>
<line x1="1148.70" y1="783.70" x2="1156.50" y2="783.70" stroke="#8d4597" stroke-width="1.05" stroke-opacity="0.6"/>
<line x1="1203.50" y1="829.20" x2="1203.50" y2="834.80" stroke="#8d4597" stroke-width="1.05" />
<line x1="1199.60" y1="829.20" x2="1207.40" y2="829.20" stroke="#8d4597" stroke-width="1.05" stroke-opacity="0.6"/>
<line x1="1199.60" y1="834.80" x2="1207.40" y2="834.80" stroke="#8d4597" stroke-width="1.05" stroke-opacity="0.6"/>
<line x1="1283.80" y1="857.70" x2="1283.80" y2="860.90" stroke="#8d4597" stroke-width="1.05" />
<line x1="1279.90" y1="857.70" x2="1287.70" y2="857.70" stroke="#8d4597" stroke-width="1.05" stroke-opacity="0.6"/>
<line x1="1279.90" y1="860.90" x2="1287.70" y2="860.90" stroke="#8d4597" stroke-width="1.05" stroke-opacity="0.6"/>
<path d="M814.20,520.10 L865.10,533.50 L983.40,602.50 L1034.30,670.00 L1152.60,763.90 L1203.50,823.10 L1283.80,849.30" fill="none" stroke="#f07d12" stroke-width="1.45" stroke-linejoin="round"/>
<circle cx="814.20" cy="520.10" r="2.35" fill="#f07d12"/>
<circle cx="865.10" cy="533.50" r="2.35" fill="#f07d12"/>
<circle cx="983.40" cy="602.50" r="2.35" fill="#f07d12"/>
<circle cx="1034.30" cy="670.00" r="2.35" fill="#f07d12"/>
<circle cx="1152.60" cy="763.90" r="2.35" fill="#f07d12"/>
<circle cx="1203.50" cy="823.10" r="2.35" fill="#f07d12"/>
<circle cx="1283.80" cy="849.30" r="2.35" fill="#f07d12"/>
<line x1="814.20" y1="514.60" x2="814.20" y2="526.20" stroke="#f07d12" stroke-width="1.05" />
<line x1="810.30" y1="514.60" x2="818.10" y2="514.60" stroke="#f07d12" stroke-width="1.05" stroke-opacity="0.6"/>
<line x1="810.30" y1="526.20" x2="818.10" y2="526.20" stroke="#f07d12" stroke-width="1.05" stroke-opacity="0.6"/>
<line x1="865.10" y1="528.00" x2="865.10" y2="540.20" stroke="#f07d12" stroke-width="1.05" />
<line x1="861.20" y1="528.00" x2="869.00" y2="528.00" stroke="#f07d12" stroke-width="1.05" stroke-opacity="0.6"/>
<line x1="861.20" y1="540.20" x2="869.00" y2="540.20" stroke="#f07d12" stroke-width="1.05" stroke-opacity="0.6"/>
<line x1="983.40" y1="597.40" x2="983.40" y2="607.40" stroke="#f07d12" stroke-width="1.05" />
<line x1="979.50" y1="597.40" x2="987.30" y2="597.40" stroke="#f07d12" stroke-width="1.05" stroke-opacity="0.6"/>
<line x1="979.50" y1="607.40" x2="987.30" y2="607.40" stroke="#f07d12" stroke-width="1.05" stroke-opacity="0.6"/>
<line x1="1034.30" y1="664.50" x2="1034.30" y2="675.50" stroke="#f07d12" stroke-width="1.05" />
<line x1="1030.40" y1="664.50" x2="1038.20" y2="664.50" stroke="#f07d12" stroke-width="1.05" stroke-opacity="0.6"/>
<line x1="1030.40" y1="675.50" x2="1038.20" y2="675.50" stroke="#f07d12" stroke-width="1.05" stroke-opacity="0.6"/>
<line x1="1152.60" y1="761.10" x2="1152.60" y2="766.70" stroke="#f07d12" stroke-width="1.05" />
<line x1="1148.70" y1="761.10" x2="1156.50" y2="761.10" stroke="#f07d12" stroke-width="1.05" stroke-opacity="0.6"/>
<line x1="1148.70" y1="766.70" x2="1156.50" y2="766.70" stroke="#f07d12" stroke-width="1.05" stroke-opacity="0.6"/>
<line x1="1203.50" y1="820.30" x2="1203.50" y2="825.90" stroke="#f07d12" stroke-width="1.05" />
<line x1="1199.60" y1="820.30" x2="1207.40" y2="820.30" stroke="#f07d12" stroke-width="1.05" stroke-opacity="0.6"/>
<line x1="1199.60" y1="825.90" x2="1207.40" y2="825.90" stroke="#f07d12" stroke-width="1.05" stroke-opacity="0.6"/>
<line x1="1283.80" y1="847.70" x2="1283.80" y2="850.90" stroke="#f07d12" stroke-width="1.05" />
<line x1="1279.90" y1="847.70" x2="1287.70" y2="847.70" stroke="#f07d12" stroke-width="1.05" stroke-opacity="0.6"/>
<line x1="1279.90" y1="850.90" x2="1287.70" y2="850.90" stroke="#f07d12" stroke-width="1.05" stroke-opacity="0.6"/>
</g>
<line x1="1250.70" y1="729.10" x2="1283.60" y2="866.00" stroke="#bdbdbd" stroke-width="1.0" />
<line x1="1316.50" y1="729.10" x2="1283.60" y2="866.00" stroke="#bdbdbd" stroke-width="1.0" />
<rect x="1250.7" y="543.3" width="65.79999999999995" height="185.80000000000007" fill="#ffffff"/>
<clipPath id="iclipd"><rect x="1250.7" y="543.3" width="65.79999999999995" height="185.80000000000007"/></clipPath>
<line x1="1283.30" y1="543.30" x2="1283.30" y2="729.10" stroke="#cccccc" stroke-width="1.0" />
<line x1="1250.70" y1="567.80" x2="1316.50" y2="567.80" stroke="#cccccc" stroke-width="1.0" />
<text transform="translate(1221.78,572.65) scale(1.1154,1)" font-size="11.66" font-family='"Liberation Sans", sans-serif' fill="#262626" >21</text>
<line x1="1250.70" y1="639.70" x2="1316.50" y2="639.70" stroke="#cccccc" stroke-width="1.0" />
<text transform="translate(1221.86,644.55) scale(1.1279,1)" font-size="11.66" font-family='"Liberation Sans", sans-serif' fill="#262626" >19</text>
<line x1="1250.70" y1="711.60" x2="1316.50" y2="711.60" stroke="#cccccc" stroke-width="1.0" />
<text transform="translate(1221.87,716.45) scale(1.1155,1)" font-size="11.66" font-family='"Liberation Sans", sans-serif' fill="#262626" >17</text>
<rect x="1250.7" y="543.3" width="65.79999999999995" height="185.80000000000007" fill="none" stroke="#cccccc" stroke-width="1.0"/>
<g clip-path="url(#iclipd)">
<path d="M1248.70,706.70 L1283.30,707.80" fill="none" stroke="#cf2024" stroke-width="1.6" stroke-linejoin="round"/>
<circle cx="1283.30" cy="707.80" r="2.7" fill="#cf2024"/>
<line x1="1283.30" y1="691.00" x2="1283.30" y2="724.90" stroke="#cf2024" stroke-width="1.05" />
<line x1="1279.50" y1="691.00" x2="1287.10" y2="691.00" stroke="#cf2024" stroke-width="1.05" stroke-opacity="0.6"/>
<line x1="1279.50" y1="724.90" x2="1287.10" y2="724.90" stroke="#cf2024" stroke-width="1.05" stroke-opacity="0.6"/>
<path d="M1248.70,667.20 L1283.30,668.40" fill="none" stroke="#3474ad" stroke-width="1.6" stroke-linejoin="round"/>
<circle cx="1283.30" cy="668.40" r="2.7" fill="#3474ad"/>
<line x1="1283.30" y1="652.50" x2="1283.30" y2="684.00" stroke="#3474ad" stroke-width="1.05" />
<line x1="1279.50" y1="652.50" x2="1287.10" y2="652.50" stroke="#3474ad" stroke-width="1.05" stroke-opacity="0.6"/>
<line x1="1279.50" y1="684.00" x2="1287.10" y2="684.00" stroke="#3474ad" stroke-width="1.05" stroke-opacity="0.6"/>
<path d="M1248.70,580.60 L1283.30,582.50" fill="none" stroke="#479f45" stroke-width="1.6" stroke-linejoin="round"/>
<circle cx="1283.30" cy="582.50" r="2.7" fill="#479f45"/>
<line x1="1283.30" y1="562.70" x2="1283.30" y2="603.00" stroke="#479f45" stroke-width="1.05" />
<line x1="1279.50" y1="562.70" x2="1287.10" y2="562.70" stroke="#479f45" stroke-width="1.05" stroke-opacity="0.6"/>
<line x1="1279.50" y1="603.00" x2="1287.10" y2="603.00" stroke="#479f45" stroke-width="1.05" stroke-opacity="0.6"/>
<path d="M1248.70,642.00 L1283.30,643.70" fill="none" stroke="#8d4597" stroke-width="1.6" stroke-linejoin="round"/>
<circle cx="1283.30" cy="643.70" r="2.7" fill="#8d4597"/>
<line x1="1283.30" y1="636.20" x2="1283.30" y2="651.40" stroke="#8d4597" stroke-width="1.05" />
<line x1="1279.50" y1="636.20" x2="1287.10" y2="636.20" stroke="#8d4597" stroke-width="1.05" stroke-opacity="0.6"/>
<line x1="1279.50" y1="651.40" x2="1287.10" y2="651.40" stroke="#8d4597" stroke-width="1.05" stroke-opacity="0.6"/>
<path d="M1248.70,566.20 L1283.30,568.00" fill="none" stroke="#f07d12" stroke-width="1.6" stroke-linejoin="round"/>
<circle cx="1283.30" cy="568.00" r="2.7" fill="#f07d12"/>
<line x1="1283.30" y1="549.80" x2="1283.30" y2="587.20" stroke="#f07d12" stroke-width="1.05" />
<line x1="1279.50" y1="549.80" x2="1287.10" y2="549.80" stroke="#f07d12" stroke-width="1.05" stroke-opacity="0.6"/>
<line x1="1279.50" y1="587.20" x2="1287.10" y2="587.20" stroke="#f07d12" stroke-width="1.05" stroke-opacity="0.6"/>
</g>
<text transform="translate(1262.79,751.60) scale(0.9604,1)" font-size="12.12" font-family='"Liberation Sans", sans-serif' fill="#262626" >3</text>
<text transform="translate(1272.54,752.43) scale(1.0705,1)" font-size="13.58" font-family='"Liberation Sans", sans-serif' fill="#262626">×</text>
<text transform="translate(1284.12,751.60) scale(1.0326,1)" font-size="12.12" font-family='"Liberation Sans", sans-serif' fill="#262626" >10</text>
<text transform="translate(1298.84,747.16) scale(1.0173,1)" font-size="8.46" font-family='"Liberation Sans", sans-serif' fill="#262626" >3</text>
<text transform="translate(847.70,897.70) scale(1.1020,1)" font-size="20.20" font-family='"Liberation Sans", sans-serif' fill="#262626" >10</text>
<text transform="translate(872.46,890.30) scale(1.1516,1)" font-size="14.10" font-family='"Liberation Sans", sans-serif' fill="#262626" >1</text>
<text transform="translate(1016.90,897.70) scale(1.1020,1)" font-size="20.20" font-family='"Liberation Sans", sans-serif' fill="#262626" >10</text>
<text transform="translate(1042.14,890.30) scale(1.0743,1)" font-size="14.10" font-family='"Liberation Sans", sans-serif' fill="#262626" >2</text>
<text transform="translate(1186.10,897.70) scale(1.1020,1)" font-size="20.20" font-family='"Liberation Sans", sans-serif' fill="#262626" >10</text>
<text transform="translate(1211.56,890.30) scale(1.0023,1)" font-size="14.10" font-family='"Liberation Sans", sans-serif' fill="#262626" >3</text>
<text transform="translate(1249.61,897.70) scale(0.9604,1)" font-size="20.20" font-family='"Liberation Sans", sans-serif' fill="#262626" >3</text>
<text transform="translate(1265.87,899.09) scale(1.0705,1)" font-size="22.63" font-family='"Liberation Sans", sans-serif' fill="#262626">×</text>
<text transform="translate(1285.16,897.70) scale(1.0326,1)" font-size="20.20" font-family='"Liberation Sans", sans-serif' fill="#262626" >10</text>
<text transform="translate(1309.70,890.30) scale(1.0173,1)" font-size="14.10" font-family='"Liberation Sans", sans-serif' fill="#262626" >3</text>
<text transform="translate(947.38,922.40) scale(1.1328,1)" font-size="23.11" font-family='"Liberation Sans", sans-serif' fill="#262626" >#Training Samples</text>
<g transform="translate(718.30,744.65) rotate(-90)">
<text transform="translate(-0.57,0) scale(1.0902,1)" font-size="23.11" font-family='"Liberation Sans", sans-serif' fill="#262626">Test Error</text>
</g>
<text transform="translate(890.39,978.20) scale(1.1238,1)" font-size="32.52" font-family='"Liberation Serif", serif' fill="#000000" >(d)</text>
<text transform="translate(943.17,978.20) scale(1.0694,1)" font-size="32.52" font-family='"Liberation Serif", serif' fill="#000000" >Oxford-IIIT</text>
<text transform="translate(1122.05,978.20) scale(1.1248,1)" font-size="32.52" font-family='"Liberation Serif", serif' fill="#000000" >Pets</text>
<rect x="76" y="751.7" width="246.2" height="116.4" rx="3" ry="3" fill="#ffffff" fill-opacity="0.8" stroke="#cccccc" stroke-opacity="0.8" stroke-width="1"/>
<line x1="81.7" y1="763.8" x2="112.3" y2="763.8" stroke="#cf2024" stroke-width="3" stroke-linecap="round"/>
<line x1="81.7" y1="786.1" x2="112.3" y2="786.1" stroke="#3474ad" stroke-width="3" stroke-linecap="round"/>
<line x1="81.7" y1="808.6" x2="112.3" y2="808.6" stroke="#479f45" stroke-width="3" stroke-linecap="round"/>
<line x1="81.7" y1="831.0" x2="112.3" y2="831.0" stroke="#8d4597" stroke-width="3" stroke-linecap="round"/>
<line x1="81.7" y1="854.0" x2="112.3" y2="854.0" stroke="#f07d12" stroke-width="3" stroke-linecap="round"/>
<text transform="translate(124.11,769.30) scale(1.0319,1)" font-size="16.42" font-family='"Liberation Sans", sans-serif' fill="#262626" >BNN Learned Prior (ours)</text>
<text transform="translate(124.74,791.50) scale(1.0234,1)" font-size="16.42" font-family='"Liberation Sans", sans-serif' fill="#262626" >SGD Learned Prior (ours)</text>
<text transform="translate(124.13,813.60) scale(1.0195,1)" font-size="16.42" font-family='"Liberation Sans", sans-serif' fill="#262626" >BNN Non-Learned Prior</text>
<text transform="translate(124.74,836.40) scale(1.0125,1)" font-size="16.42" font-family='"Liberation Sans", sans-serif' fill="#262626" >SGD Transfer Init</text>
<text transform="translate(124.75,859.00) scale(1.0106,1)" font-size="16.42" font-family='"Liberation Sans", sans-serif' fill="#262626" >SGD Non-Learned Prior</text>
</svg>
</body></html>
